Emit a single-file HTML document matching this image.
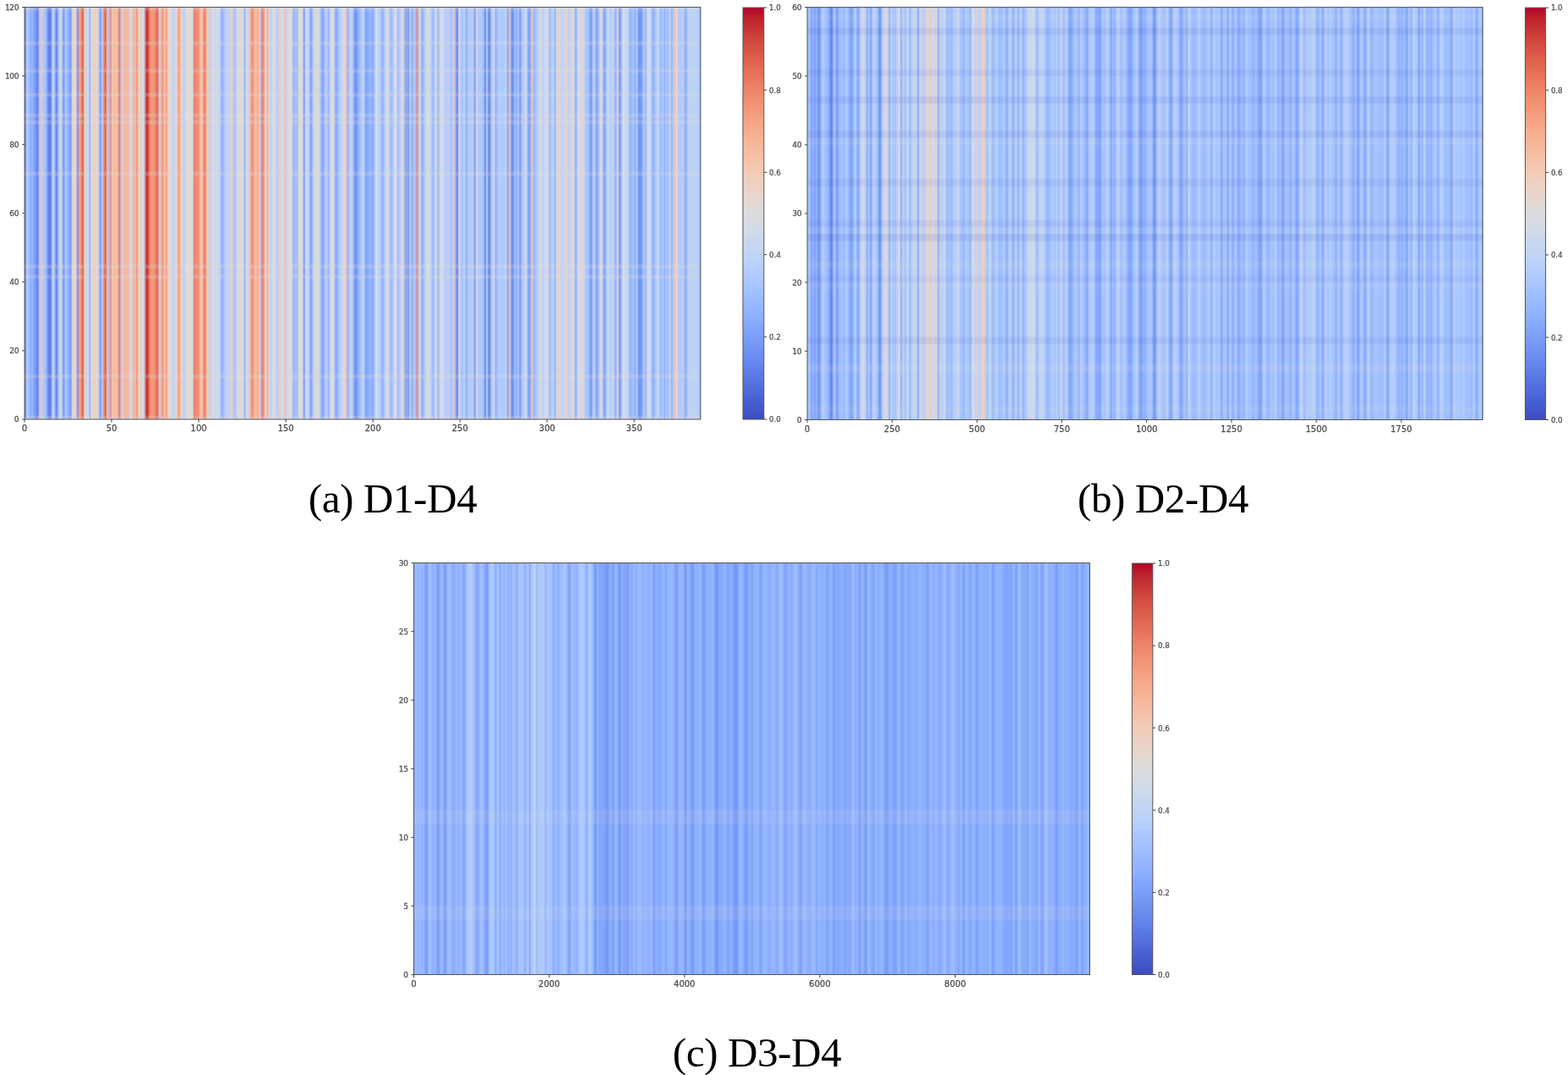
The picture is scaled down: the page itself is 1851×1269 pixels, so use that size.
<!DOCTYPE html><html><head><meta charset="utf-8"><style>
html,body{margin:0;padding:0;background:#fff;}
body{width:1851px;height:1269px;position:relative;overflow:hidden;}
svg{position:absolute;left:0;top:0;}
.cap{position:absolute;font-family:"Liberation Serif","Times New Roman",serif;font-size:49px;letter-spacing:-0.4px;color:#000;white-space:nowrap;line-height:1;}
</style></head><body>
<svg width="1851" height="1269" viewBox="0 0 1851 1269">
<defs><filter id="bl" x="0" y="0" width="1" height="1"><feConvolveMatrix order="3" kernelMatrix="1 2 1 2 4 2 1 2 1" edgeMode="duplicate"/></filter>
<linearGradient id="cbg" x1="0" y1="0" x2="0" y2="1"><stop offset="0.000" stop-color="#b40426"/><stop offset="0.025" stop-color="#bd1f2d"/><stop offset="0.050" stop-color="#c53334"/><stop offset="0.075" stop-color="#cf453c"/><stop offset="0.100" stop-color="#d65244"/><stop offset="0.125" stop-color="#dd5f4b"/><stop offset="0.150" stop-color="#e36c55"/><stop offset="0.175" stop-color="#e9785d"/><stop offset="0.200" stop-color="#ee8468"/><stop offset="0.225" stop-color="#f18f71"/><stop offset="0.250" stop-color="#f4987a"/><stop offset="0.275" stop-color="#f6a385"/><stop offset="0.300" stop-color="#f7ac8e"/><stop offset="0.325" stop-color="#f7b599"/><stop offset="0.350" stop-color="#f6bda2"/><stop offset="0.375" stop-color="#f5c4ac"/><stop offset="0.400" stop-color="#f2cbb7"/><stop offset="0.425" stop-color="#eed0c0"/><stop offset="0.450" stop-color="#e9d5cb"/><stop offset="0.475" stop-color="#e3d9d3"/><stop offset="0.500" stop-color="#dddcdc"/><stop offset="0.525" stop-color="#d6dce4"/><stop offset="0.550" stop-color="#cfdaea"/><stop offset="0.575" stop-color="#c7d7f0"/><stop offset="0.600" stop-color="#c0d4f5"/><stop offset="0.625" stop-color="#b9d0f9"/><stop offset="0.650" stop-color="#afcafc"/><stop offset="0.675" stop-color="#a7c5fe"/><stop offset="0.700" stop-color="#9ebeff"/><stop offset="0.725" stop-color="#96b7ff"/><stop offset="0.750" stop-color="#8db0fe"/><stop offset="0.775" stop-color="#84a7fc"/><stop offset="0.800" stop-color="#7b9ff9"/><stop offset="0.825" stop-color="#7295f4"/><stop offset="0.850" stop-color="#6a8bef"/><stop offset="0.875" stop-color="#6282ea"/><stop offset="0.900" stop-color="#5977e3"/><stop offset="0.925" stop-color="#516ddb"/><stop offset="0.950" stop-color="#4961d2"/><stop offset="0.975" stop-color="#4257c9"/><stop offset="1.000" stop-color="#3b4cc0"/></linearGradient></defs>
<g transform="translate(29.0,8.5)"><g filter="url(#bl)">
<rect x="0.00" width="2.56" height="486.50" fill="#688aef"/>
<rect x="2.06" width="2.56" height="486.50" fill="#b6cefa"/>
<rect x="4.11" width="2.56" height="486.50" fill="#a1c0ff"/>
<rect x="6.17" width="2.56" height="486.50" fill="#89acfd"/>
<rect x="8.22" width="2.56" height="486.50" fill="#93b5fe"/>
<rect x="10.28" width="2.56" height="486.50" fill="#80a3fa"/>
<rect x="12.34" width="2.56" height="486.50" fill="#7295f4"/>
<rect x="14.39" width="2.56" height="486.50" fill="#5470de"/>
<rect x="16.45" width="2.56" height="486.50" fill="#aec9fc"/>
<rect x="18.51" width="2.56" height="486.50" fill="#f5c1a9"/>
<rect x="20.56" width="2.56" height="486.50" fill="#b6cefa"/>
<rect x="22.62" width="2.56" height="486.50" fill="#a9c6fd"/>
<rect x="24.67" width="2.56" height="486.50" fill="#97b8ff"/>
<rect x="26.73" width="2.56" height="486.50" fill="#688aef"/>
<rect x="28.79" width="2.56" height="486.50" fill="#5875e1"/>
<rect x="30.84" width="2.56" height="486.50" fill="#80a3fa"/>
<rect x="32.90" width="2.56" height="486.50" fill="#d3dbe7"/>
<rect x="34.96" width="2.56" height="486.50" fill="#89acfd"/>
<rect x="37.01" width="2.56" height="486.50" fill="#5e7de7"/>
<rect x="39.07" width="2.56" height="486.50" fill="#a1c0ff"/>
<rect x="41.12" width="2.56" height="486.50" fill="#d6dce4"/>
<rect x="43.18" width="2.56" height="486.50" fill="#aec9fc"/>
<rect x="45.24" width="2.56" height="486.50" fill="#688aef"/>
<rect x="47.29" width="2.56" height="486.50" fill="#aec9fc"/>
<rect x="49.35" width="2.56" height="486.50" fill="#97b8ff"/>
<rect x="51.40" width="2.56" height="486.50" fill="#89acfd"/>
<rect x="53.46" width="2.56" height="486.50" fill="#6c8ff1"/>
<rect x="55.52" width="2.56" height="486.50" fill="#dddcdc"/>
<rect x="57.57" width="2.56" height="486.50" fill="#edd2c3"/>
<rect x="59.63" width="2.56" height="486.50" fill="#dddcdc"/>
<rect x="61.69" width="2.56" height="486.50" fill="#5e7de7"/>
<rect x="63.74" width="2.56" height="486.50" fill="#f7ac8e"/>
<rect x="65.80" width="2.56" height="486.50" fill="#f29072"/>
<rect x="67.85" width="2.56" height="486.50" fill="#d55042"/>
<rect x="69.91" width="2.56" height="486.50" fill="#edd2c3"/>
<rect x="71.97" width="2.56" height="486.50" fill="#bfd3f6"/>
<rect x="74.02" width="2.56" height="486.50" fill="#dddcdc"/>
<rect x="76.08" width="2.56" height="486.50" fill="#89acfd"/>
<rect x="78.14" width="2.56" height="486.50" fill="#dddcdc"/>
<rect x="80.19" width="2.56" height="486.50" fill="#edd2c3"/>
<rect x="82.25" width="2.56" height="486.50" fill="#f2c9b4"/>
<rect x="84.30" width="2.56" height="486.50" fill="#e3d9d3"/>
<rect x="86.36" width="2.56" height="486.50" fill="#bfd3f6"/>
<rect x="88.42" width="2.56" height="486.50" fill="#6c8ff1"/>
<rect x="90.47" width="2.56" height="486.50" fill="#b6cefa"/>
<rect x="92.53" width="2.56" height="486.50" fill="#f29072"/>
<rect x="94.58" width="2.56" height="486.50" fill="#d55042"/>
<rect x="96.64" width="2.56" height="486.50" fill="#f5c1a9"/>
<rect x="98.70" width="2.56" height="486.50" fill="#a1c0ff"/>
<rect x="100.75" width="2.56" height="486.50" fill="#ee8468"/>
<rect x="102.81" width="2.56" height="486.50" fill="#efcfbf"/>
<rect x="104.87" width="2.56" height="486.50" fill="#f7b093"/>
<rect x="106.92" width="2.56" height="486.50" fill="#f4c5ad"/>
<rect x="108.98" width="2.56" height="486.50" fill="#f7b093"/>
<rect x="111.03" width="2.56" height="486.50" fill="#e36c55"/>
<rect x="113.09" width="2.56" height="486.50" fill="#aec9fc"/>
<rect x="115.15" width="2.56" height="486.50" fill="#f4c5ad"/>
<rect x="117.20" width="2.56" height="486.50" fill="#f7b093"/>
<rect x="119.26" width="2.56" height="486.50" fill="#f6bda2"/>
<rect x="121.31" width="2.56" height="486.50" fill="#f7b093"/>
<rect x="123.37" width="2.56" height="486.50" fill="#cbd8ee"/>
<rect x="125.43" width="2.56" height="486.50" fill="#dddcdc"/>
<rect x="127.48" width="2.56" height="486.50" fill="#f7a688"/>
<rect x="129.54" width="2.56" height="486.50" fill="#f4c5ad"/>
<rect x="131.60" width="2.56" height="486.50" fill="#ee8468"/>
<rect x="133.65" width="2.56" height="486.50" fill="#dddcdc"/>
<rect x="135.71" width="2.56" height="486.50" fill="#f4c5ad"/>
<rect x="137.76" width="2.56" height="486.50" fill="#d6dce4"/>
<rect x="139.82" width="2.56" height="486.50" fill="#cbd8ee"/>
<rect x="141.88" width="2.56" height="486.50" fill="#d55042"/>
<rect x="143.93" width="2.56" height="486.50" fill="#be242e"/>
<rect x="145.99" width="2.56" height="486.50" fill="#e36c55"/>
<rect x="148.05" width="6.67" height="486.50" fill="#f39778"/>
<rect x="154.21" width="2.56" height="486.50" fill="#e67259"/>
<rect x="156.27" width="2.56" height="486.50" fill="#dd5f4b"/>
<rect x="158.33" width="2.56" height="486.50" fill="#cbd8ee"/>
<rect x="160.38" width="2.56" height="486.50" fill="#f7a688"/>
<rect x="162.44" width="2.56" height="486.50" fill="#f39778"/>
<rect x="164.49" width="2.56" height="486.50" fill="#f4c5ad"/>
<rect x="166.55" width="2.56" height="486.50" fill="#f39778"/>
<rect x="168.61" width="2.56" height="486.50" fill="#dddcdc"/>
<rect x="170.66" width="2.56" height="486.50" fill="#edd2c3"/>
<rect x="172.72" width="2.56" height="486.50" fill="#d6dce4"/>
<rect x="174.78" width="2.56" height="486.50" fill="#b6cefa"/>
<rect x="176.83" width="2.56" height="486.50" fill="#d3dbe7"/>
<rect x="178.89" width="2.56" height="486.50" fill="#edd2c3"/>
<rect x="180.94" width="2.56" height="486.50" fill="#f29072"/>
<rect x="183.00" width="2.56" height="486.50" fill="#f5c1a9"/>
<rect x="185.06" width="2.56" height="486.50" fill="#d6dce4"/>
<rect x="187.11" width="2.56" height="486.50" fill="#aec9fc"/>
<rect x="189.17" width="2.56" height="486.50" fill="#d6dce4"/>
<rect x="191.23" width="2.56" height="486.50" fill="#e7d7ce"/>
<rect x="193.28" width="2.56" height="486.50" fill="#dddcdc"/>
<rect x="195.34" width="2.56" height="486.50" fill="#e3d9d3"/>
<rect x="197.39" width="2.56" height="486.50" fill="#d6dce4"/>
<rect x="199.45" width="2.56" height="486.50" fill="#e36c55"/>
<rect x="201.51" width="2.56" height="486.50" fill="#f39778"/>
<rect x="203.56" width="2.56" height="486.50" fill="#ee8468"/>
<rect x="205.62" width="2.56" height="486.50" fill="#f7a688"/>
<rect x="207.67" width="2.56" height="486.50" fill="#efcfbf"/>
<rect x="209.73" width="2.56" height="486.50" fill="#f7a688"/>
<rect x="211.79" width="2.56" height="486.50" fill="#e36c55"/>
<rect x="213.84" width="2.56" height="486.50" fill="#f6bda2"/>
<rect x="215.90" width="2.56" height="486.50" fill="#f1ccb8"/>
<rect x="217.96" width="2.56" height="486.50" fill="#b6cefa"/>
<rect x="220.01" width="2.56" height="486.50" fill="#cbd8ee"/>
<rect x="222.07" width="2.56" height="486.50" fill="#edd2c3"/>
<rect x="224.12" width="2.56" height="486.50" fill="#c3d5f4"/>
<rect x="226.18" width="2.56" height="486.50" fill="#d3dbe7"/>
<rect x="228.24" width="2.56" height="486.50" fill="#c3d5f4"/>
<rect x="230.29" width="2.56" height="486.50" fill="#b6cefa"/>
<rect x="232.35" width="2.56" height="486.50" fill="#80a3fa"/>
<rect x="234.41" width="2.56" height="486.50" fill="#aec9fc"/>
<rect x="236.46" width="2.56" height="486.50" fill="#b6cefa"/>
<rect x="238.52" width="2.56" height="486.50" fill="#cbd8ee"/>
<rect x="240.57" width="2.56" height="486.50" fill="#b6cefa"/>
<rect x="242.63" width="2.56" height="486.50" fill="#d3dbe7"/>
<rect x="244.69" width="2.56" height="486.50" fill="#f5c1a9"/>
<rect x="246.74" width="2.56" height="486.50" fill="#a1c0ff"/>
<rect x="248.80" width="2.56" height="486.50" fill="#b6cefa"/>
<rect x="250.85" width="2.56" height="486.50" fill="#dddcdc"/>
<rect x="252.91" width="2.56" height="486.50" fill="#d3dbe7"/>
<rect x="254.97" width="2.56" height="486.50" fill="#e7d7ce"/>
<rect x="257.02" width="2.56" height="486.50" fill="#d3dbe7"/>
<rect x="259.08" width="2.56" height="486.50" fill="#89acfd"/>
<rect x="261.14" width="2.56" height="486.50" fill="#dddcdc"/>
<rect x="263.19" width="2.56" height="486.50" fill="#c3d5f4"/>
<rect x="265.25" width="2.56" height="486.50" fill="#f6bda2"/>
<rect x="267.30" width="2.56" height="486.50" fill="#f08b6e"/>
<rect x="269.36" width="2.56" height="486.50" fill="#f39778"/>
<rect x="271.42" width="2.56" height="486.50" fill="#f2c9b4"/>
<rect x="273.47" width="2.56" height="486.50" fill="#f7a688"/>
<rect x="275.53" width="2.56" height="486.50" fill="#f6bda2"/>
<rect x="277.59" width="2.56" height="486.50" fill="#b6cefa"/>
<rect x="279.64" width="2.56" height="486.50" fill="#e36c55"/>
<rect x="281.70" width="2.56" height="486.50" fill="#f7a688"/>
<rect x="283.75" width="2.56" height="486.50" fill="#dddcdc"/>
<rect x="285.81" width="2.56" height="486.50" fill="#f7a688"/>
<rect x="287.87" width="2.56" height="486.50" fill="#dddcdc"/>
<rect x="289.92" width="2.56" height="486.50" fill="#b6cefa"/>
<rect x="291.98" width="2.56" height="486.50" fill="#d3dbe7"/>
<rect x="294.03" width="2.56" height="486.50" fill="#e3d9d3"/>
<rect x="296.09" width="2.56" height="486.50" fill="#bfd3f6"/>
<rect x="298.15" width="2.56" height="486.50" fill="#aec9fc"/>
<rect x="300.20" width="2.56" height="486.50" fill="#f1ccb8"/>
<rect x="302.26" width="2.56" height="486.50" fill="#cbd8ee"/>
<rect x="304.32" width="2.56" height="486.50" fill="#d3dbe7"/>
<rect x="306.37" width="2.56" height="486.50" fill="#f7b99e"/>
<rect x="308.43" width="2.56" height="486.50" fill="#bfd3f6"/>
<rect x="310.48" width="2.56" height="486.50" fill="#e3d9d3"/>
<rect x="312.54" width="2.56" height="486.50" fill="#d3dbe7"/>
<rect x="314.60" width="2.56" height="486.50" fill="#dddcdc"/>
<rect x="316.65" width="2.56" height="486.50" fill="#89acfd"/>
<rect x="318.71" width="2.56" height="486.50" fill="#aec9fc"/>
<rect x="320.76" width="2.56" height="486.50" fill="#93b5fe"/>
<rect x="322.82" width="2.56" height="486.50" fill="#e7d7ce"/>
<rect x="324.88" width="2.56" height="486.50" fill="#e3d9d3"/>
<rect x="326.93" width="2.56" height="486.50" fill="#d3dbe7"/>
<rect x="328.99" width="2.56" height="486.50" fill="#6c8ff1"/>
<rect x="331.05" width="4.61" height="486.50" fill="#cbd8ee"/>
<rect x="335.16" width="2.56" height="486.50" fill="#aec9fc"/>
<rect x="337.21" width="2.56" height="486.50" fill="#7295f4"/>
<rect x="339.27" width="2.56" height="486.50" fill="#aec9fc"/>
<rect x="341.33" width="2.56" height="486.50" fill="#cbd8ee"/>
<rect x="343.38" width="2.56" height="486.50" fill="#edd2c3"/>
<rect x="345.44" width="2.56" height="486.50" fill="#d3dbe7"/>
<rect x="347.50" width="2.56" height="486.50" fill="#bfd3f6"/>
<rect x="349.55" width="2.56" height="486.50" fill="#89acfd"/>
<rect x="351.61" width="2.56" height="486.50" fill="#80a3fa"/>
<rect x="353.66" width="2.56" height="486.50" fill="#aec9fc"/>
<rect x="355.72" width="2.56" height="486.50" fill="#bfd3f6"/>
<rect x="357.78" width="2.56" height="486.50" fill="#89acfd"/>
<rect x="359.83" width="2.56" height="486.50" fill="#cbd8ee"/>
<rect x="361.89" width="2.56" height="486.50" fill="#e3d9d3"/>
<rect x="363.94" width="2.56" height="486.50" fill="#d3dbe7"/>
<rect x="366.00" width="4.61" height="486.50" fill="#89acfd"/>
<rect x="370.11" width="2.56" height="486.50" fill="#aec9fc"/>
<rect x="372.17" width="2.56" height="486.50" fill="#b6cefa"/>
<rect x="374.23" width="2.56" height="486.50" fill="#cbd8ee"/>
<rect x="376.28" width="2.56" height="486.50" fill="#e3d9d3"/>
<rect x="378.34" width="2.56" height="486.50" fill="#f2c9b4"/>
<rect x="380.39" width="2.56" height="486.50" fill="#89acfd"/>
<rect x="382.45" width="2.56" height="486.50" fill="#aec9fc"/>
<rect x="384.51" width="2.56" height="486.50" fill="#cbd8ee"/>
<rect x="386.56" width="2.56" height="486.50" fill="#aec9fc"/>
<rect x="388.62" width="4.61" height="486.50" fill="#7295f4"/>
<rect x="392.73" width="2.56" height="486.50" fill="#89acfd"/>
<rect x="394.79" width="2.56" height="486.50" fill="#a1c0ff"/>
<rect x="396.84" width="2.56" height="486.50" fill="#aec9fc"/>
<rect x="398.90" width="2.56" height="486.50" fill="#cbd8ee"/>
<rect x="400.96" width="2.56" height="486.50" fill="#89acfd"/>
<rect x="403.01" width="2.56" height="486.50" fill="#80a3fa"/>
<rect x="405.07" width="2.56" height="486.50" fill="#89acfd"/>
<rect x="407.12" width="2.56" height="486.50" fill="#97b8ff"/>
<rect x="409.18" width="4.61" height="486.50" fill="#89acfd"/>
<rect x="413.29" width="2.56" height="486.50" fill="#cbd8ee"/>
<rect x="415.35" width="2.56" height="486.50" fill="#d6dce4"/>
<rect x="417.41" width="2.56" height="486.50" fill="#b6cefa"/>
<rect x="419.46" width="2.56" height="486.50" fill="#aec9fc"/>
<rect x="421.52" width="2.56" height="486.50" fill="#89acfd"/>
<rect x="423.57" width="2.56" height="486.50" fill="#aec9fc"/>
<rect x="425.63" width="2.56" height="486.50" fill="#cbd8ee"/>
<rect x="427.69" width="2.56" height="486.50" fill="#dddcdc"/>
<rect x="429.74" width="2.56" height="486.50" fill="#b6cefa"/>
<rect x="431.80" width="2.56" height="486.50" fill="#97b8ff"/>
<rect x="433.86" width="2.56" height="486.50" fill="#aec9fc"/>
<rect x="435.91" width="2.56" height="486.50" fill="#dddcdc"/>
<rect x="437.97" width="2.56" height="486.50" fill="#cbd8ee"/>
<rect x="440.02" width="2.56" height="486.50" fill="#97b8ff"/>
<rect x="442.08" width="2.56" height="486.50" fill="#b6cefa"/>
<rect x="444.14" width="2.56" height="486.50" fill="#cbd8ee"/>
<rect x="446.19" width="2.56" height="486.50" fill="#edd2c3"/>
<rect x="448.25" width="2.56" height="486.50" fill="#80a3fa"/>
<rect x="450.30" width="2.56" height="486.50" fill="#89acfd"/>
<rect x="452.36" width="2.56" height="486.50" fill="#7295f4"/>
<rect x="454.42" width="2.56" height="486.50" fill="#cbd8ee"/>
<rect x="456.47" width="2.56" height="486.50" fill="#80a3fa"/>
<rect x="458.53" width="2.56" height="486.50" fill="#b6cefa"/>
<rect x="460.59" width="2.56" height="486.50" fill="#a1c0ff"/>
<rect x="462.64" width="2.56" height="486.50" fill="#e67259"/>
<rect x="464.70" width="2.56" height="486.50" fill="#dddcdc"/>
<rect x="466.75" width="2.56" height="486.50" fill="#aec9fc"/>
<rect x="468.81" width="2.56" height="486.50" fill="#89acfd"/>
<rect x="470.87" width="2.56" height="486.50" fill="#aec9fc"/>
<rect x="472.92" width="2.56" height="486.50" fill="#cbd8ee"/>
<rect x="474.98" width="2.56" height="486.50" fill="#dddcdc"/>
<rect x="477.04" width="2.56" height="486.50" fill="#cbd8ee"/>
<rect x="479.09" width="2.56" height="486.50" fill="#b6cefa"/>
<rect x="481.15" width="2.56" height="486.50" fill="#93b5fe"/>
<rect x="483.20" width="2.56" height="486.50" fill="#b6cefa"/>
<rect x="485.26" width="2.56" height="486.50" fill="#dddcdc"/>
<rect x="487.32" width="2.56" height="486.50" fill="#89acfd"/>
<rect x="489.37" width="2.56" height="486.50" fill="#cbd8ee"/>
<rect x="491.43" width="2.56" height="486.50" fill="#dddcdc"/>
<rect x="493.48" width="2.56" height="486.50" fill="#cbd8ee"/>
<rect x="495.54" width="2.56" height="486.50" fill="#aec9fc"/>
<rect x="497.60" width="2.56" height="486.50" fill="#b6cefa"/>
<rect x="499.65" width="2.56" height="486.50" fill="#bfd3f6"/>
<rect x="501.71" width="2.56" height="486.50" fill="#a1c0ff"/>
<rect x="503.77" width="2.56" height="486.50" fill="#aec9fc"/>
<rect x="505.82" width="2.56" height="486.50" fill="#f2c9b4"/>
<rect x="507.88" width="2.56" height="486.50" fill="#89acfd"/>
<rect x="509.93" width="2.56" height="486.50" fill="#5e7de7"/>
<rect x="511.99" width="2.56" height="486.50" fill="#d6dce4"/>
<rect x="514.05" width="2.56" height="486.50" fill="#aec9fc"/>
<rect x="516.10" width="2.56" height="486.50" fill="#a1c0ff"/>
<rect x="518.16" width="2.56" height="486.50" fill="#bfd3f6"/>
<rect x="520.21" width="2.56" height="486.50" fill="#89acfd"/>
<rect x="522.27" width="2.56" height="486.50" fill="#a1c0ff"/>
<rect x="524.33" width="2.56" height="486.50" fill="#b6cefa"/>
<rect x="526.38" width="2.56" height="486.50" fill="#aec9fc"/>
<rect x="528.44" width="2.56" height="486.50" fill="#bfd3f6"/>
<rect x="530.50" width="2.56" height="486.50" fill="#6c8ff1"/>
<rect x="532.55" width="2.56" height="486.50" fill="#dddcdc"/>
<rect x="534.61" width="6.67" height="486.50" fill="#aec9fc"/>
<rect x="540.78" width="2.56" height="486.50" fill="#a1c0ff"/>
<rect x="542.83" width="2.56" height="486.50" fill="#5e7de7"/>
<rect x="544.89" width="2.56" height="486.50" fill="#bfd3f6"/>
<rect x="546.95" width="2.56" height="486.50" fill="#5e7de7"/>
<rect x="549.00" width="2.56" height="486.50" fill="#80a3fa"/>
<rect x="551.06" width="2.56" height="486.50" fill="#bfd3f6"/>
<rect x="553.11" width="2.56" height="486.50" fill="#cbd8ee"/>
<rect x="555.17" width="2.56" height="486.50" fill="#89acfd"/>
<rect x="557.23" width="2.56" height="486.50" fill="#a1c0ff"/>
<rect x="559.28" width="2.56" height="486.50" fill="#b6cefa"/>
<rect x="561.34" width="6.67" height="486.50" fill="#aec9fc"/>
<rect x="567.51" width="2.56" height="486.50" fill="#cbd8ee"/>
<rect x="569.56" width="2.56" height="486.50" fill="#7295f4"/>
<rect x="571.62" width="2.56" height="486.50" fill="#edd2c3"/>
<rect x="573.68" width="2.56" height="486.50" fill="#7295f4"/>
<rect x="575.73" width="2.56" height="486.50" fill="#6c8ff1"/>
<rect x="577.79" width="2.56" height="486.50" fill="#a1c0ff"/>
<rect x="579.84" width="2.56" height="486.50" fill="#89acfd"/>
<rect x="581.90" width="2.56" height="486.50" fill="#aec9fc"/>
<rect x="583.96" width="2.56" height="486.50" fill="#6c8ff1"/>
<rect x="586.01" width="4.61" height="486.50" fill="#aec9fc"/>
<rect x="590.13" width="2.56" height="486.50" fill="#d3dbe7"/>
<rect x="592.18" width="2.56" height="486.50" fill="#aec9fc"/>
<rect x="594.24" width="2.56" height="486.50" fill="#7295f4"/>
<rect x="596.29" width="2.56" height="486.50" fill="#89acfd"/>
<rect x="598.35" width="2.56" height="486.50" fill="#f2c9b4"/>
<rect x="600.41" width="2.56" height="486.50" fill="#89acfd"/>
<rect x="602.46" width="4.61" height="486.50" fill="#aec9fc"/>
<rect x="606.57" width="2.56" height="486.50" fill="#cbd8ee"/>
<rect x="608.63" width="2.56" height="486.50" fill="#dddcdc"/>
<rect x="610.69" width="2.56" height="486.50" fill="#b6cefa"/>
<rect x="612.74" width="4.61" height="486.50" fill="#cbd8ee"/>
<rect x="616.86" width="2.56" height="486.50" fill="#d6dce4"/>
<rect x="618.91" width="2.56" height="486.50" fill="#93b5fe"/>
<rect x="620.97" width="2.56" height="486.50" fill="#aec9fc"/>
<rect x="623.02" width="2.56" height="486.50" fill="#c3d5f4"/>
<rect x="625.08" width="2.56" height="486.50" fill="#89acfd"/>
<rect x="627.14" width="2.56" height="486.50" fill="#cbd8ee"/>
<rect x="629.19" width="2.56" height="486.50" fill="#f2c9b4"/>
<rect x="631.25" width="2.56" height="486.50" fill="#cbd8ee"/>
<rect x="633.31" width="2.56" height="486.50" fill="#b6cefa"/>
<rect x="635.36" width="2.56" height="486.50" fill="#cbd8ee"/>
<rect x="637.42" width="2.56" height="486.50" fill="#f1ccb8"/>
<rect x="639.47" width="2.56" height="486.50" fill="#cbd8ee"/>
<rect x="641.53" width="2.56" height="486.50" fill="#b6cefa"/>
<rect x="643.59" width="2.56" height="486.50" fill="#cbd8ee"/>
<rect x="645.64" width="2.56" height="486.50" fill="#edd2c3"/>
<rect x="647.70" width="2.56" height="486.50" fill="#cbd8ee"/>
<rect x="649.75" width="2.56" height="486.50" fill="#80a3fa"/>
<rect x="651.81" width="2.56" height="486.50" fill="#cbd8ee"/>
<rect x="653.87" width="2.56" height="486.50" fill="#d3dbe7"/>
<rect x="655.92" width="2.56" height="486.50" fill="#edd2c3"/>
<rect x="657.98" width="2.56" height="486.50" fill="#d3dbe7"/>
<rect x="660.04" width="2.56" height="486.50" fill="#bfd3f6"/>
<rect x="662.09" width="2.56" height="486.50" fill="#a1c0ff"/>
<rect x="664.15" width="2.56" height="486.50" fill="#aec9fc"/>
<rect x="666.20" width="2.56" height="486.50" fill="#80a3fa"/>
<rect x="668.26" width="2.56" height="486.50" fill="#7295f4"/>
<rect x="670.32" width="2.56" height="486.50" fill="#bfd3f6"/>
<rect x="672.37" width="2.56" height="486.50" fill="#aec9fc"/>
<rect x="674.43" width="2.56" height="486.50" fill="#7295f4"/>
<rect x="676.49" width="2.56" height="486.50" fill="#a1c0ff"/>
<rect x="678.54" width="2.56" height="486.50" fill="#d3dbe7"/>
<rect x="680.60" width="2.56" height="486.50" fill="#dddcdc"/>
<rect x="682.65" width="2.56" height="486.50" fill="#80a3fa"/>
<rect x="684.71" width="2.56" height="486.50" fill="#89acfd"/>
<rect x="686.77" width="2.56" height="486.50" fill="#c3d5f4"/>
<rect x="688.82" width="2.56" height="486.50" fill="#cbd8ee"/>
<rect x="690.88" width="2.56" height="486.50" fill="#aec9fc"/>
<rect x="692.93" width="2.56" height="486.50" fill="#cbd8ee"/>
<rect x="694.99" width="2.56" height="486.50" fill="#aec9fc"/>
<rect x="697.05" width="2.56" height="486.50" fill="#89acfd"/>
<rect x="699.10" width="2.56" height="486.50" fill="#e3d9d3"/>
<rect x="701.16" width="2.56" height="486.50" fill="#7295f4"/>
<rect x="703.22" width="2.56" height="486.50" fill="#89acfd"/>
<rect x="705.27" width="2.56" height="486.50" fill="#dddcdc"/>
<rect x="707.33" width="2.56" height="486.50" fill="#cbd8ee"/>
<rect x="709.38" width="2.56" height="486.50" fill="#c3d5f4"/>
<rect x="711.44" width="2.56" height="486.50" fill="#cbd8ee"/>
<rect x="713.50" width="2.56" height="486.50" fill="#89acfd"/>
<rect x="715.55" width="4.61" height="486.50" fill="#a1c0ff"/>
<rect x="719.66" width="2.56" height="486.50" fill="#89acfd"/>
<rect x="721.72" width="2.56" height="486.50" fill="#b6cefa"/>
<rect x="723.78" width="4.61" height="486.50" fill="#7295f4"/>
<rect x="727.89" width="2.56" height="486.50" fill="#80a3fa"/>
<rect x="729.95" width="2.56" height="486.50" fill="#b6cefa"/>
<rect x="732.00" width="2.56" height="486.50" fill="#93b5fe"/>
<rect x="734.06" width="2.56" height="486.50" fill="#c3d5f4"/>
<rect x="736.11" width="2.56" height="486.50" fill="#d6dce4"/>
<rect x="738.17" width="2.56" height="486.50" fill="#c3d5f4"/>
<rect x="740.23" width="2.56" height="486.50" fill="#89acfd"/>
<rect x="742.28" width="2.56" height="486.50" fill="#93b5fe"/>
<rect x="744.34" width="2.56" height="486.50" fill="#aec9fc"/>
<rect x="746.40" width="2.56" height="486.50" fill="#cbd8ee"/>
<rect x="748.45" width="2.56" height="486.50" fill="#aec9fc"/>
<rect x="750.51" width="2.56" height="486.50" fill="#93b5fe"/>
<rect x="752.56" width="2.56" height="486.50" fill="#b6cefa"/>
<rect x="754.62" width="2.56" height="486.50" fill="#89acfd"/>
<rect x="756.68" width="2.56" height="486.50" fill="#aec9fc"/>
<rect x="758.73" width="2.56" height="486.50" fill="#93b5fe"/>
<rect x="760.79" width="2.56" height="486.50" fill="#d3dbe7"/>
<rect x="762.84" width="2.56" height="486.50" fill="#89acfd"/>
<rect x="764.90" width="2.56" height="486.50" fill="#b6cefa"/>
<rect x="766.96" width="2.56" height="486.50" fill="#f5c1a9"/>
<rect x="769.01" width="2.56" height="486.50" fill="#e7d7ce"/>
<rect x="771.07" width="4.61" height="486.50" fill="#aec9fc"/>
<rect x="775.18" width="2.56" height="486.50" fill="#b6cefa"/>
<rect x="777.24" width="2.56" height="486.50" fill="#aec9fc"/>
<rect x="779.29" width="2.56" height="486.50" fill="#80a3fa"/>
<rect x="781.35" width="2.56" height="486.50" fill="#aec9fc"/>
<rect x="783.41" width="2.56" height="486.50" fill="#c3d5f4"/>
<rect x="785.46" width="2.56" height="486.50" fill="#b6cefa"/>
<rect x="787.52" width="2.56" height="486.50" fill="#c3d5f4"/>
<rect x="789.58" width="2.56" height="486.50" fill="#b6cefa"/>
<rect x="791.63" width="2.56" height="486.50" fill="#c3d5f4"/>
<rect x="793.69" width="2.56" height="486.50" fill="#aec9fc"/>
<rect x="795.74" width="2.56" height="486.50" fill="#bfd3f6"/>
<rect x="0" y="482.45" width="797.80" height="4.05" fill="#dddcdc" fill-opacity="0.28"/>
<rect x="0" y="433.80" width="797.80" height="4.05" fill="#dddcdc" fill-opacity="0.28"/>
<rect x="0" y="316.23" width="797.80" height="4.05" fill="#dddcdc" fill-opacity="0.28"/>
<rect x="0" y="304.06" width="797.80" height="4.05" fill="#dddcdc" fill-opacity="0.28"/>
<rect x="0" y="194.60" width="797.80" height="4.05" fill="#dddcdc" fill-opacity="0.28"/>
<rect x="0" y="133.79" width="797.80" height="4.05" fill="#dddcdc" fill-opacity="0.28"/>
<rect x="0" y="125.68" width="797.80" height="4.05" fill="#dddcdc" fill-opacity="0.28"/>
<rect x="0" y="101.35" width="797.80" height="4.05" fill="#dddcdc" fill-opacity="0.28"/>
<rect x="0" y="72.98" width="797.80" height="4.05" fill="#dddcdc" fill-opacity="0.28"/>
<rect x="0" y="40.54" width="797.80" height="4.05" fill="#dddcdc" fill-opacity="0.28"/>
<rect x="0" y="0.00" width="797.80" height="4.05" fill="#dddcdc" fill-opacity="0.28"/>
</g></g>
<rect x="29.0" y="8.5" width="797.80" height="486.50" fill="none" stroke="#555" stroke-width="1"/>
<line x1="26.0" y1="495.00" x2="29.0" y2="495.00" stroke="#444" stroke-width="1"/>
<text x="22.0" y="498.40" text-anchor="end" font-family="DejaVu Sans, sans-serif" font-size="9" letter-spacing="-0.4" fill="#3a3a3a" stroke="#666" stroke-width="0.3">0</text>
<line x1="26.0" y1="413.92" x2="29.0" y2="413.92" stroke="#444" stroke-width="1"/>
<text x="22.0" y="417.32" text-anchor="end" font-family="DejaVu Sans, sans-serif" font-size="9" letter-spacing="-0.4" fill="#3a3a3a" stroke="#666" stroke-width="0.3">20</text>
<line x1="26.0" y1="332.83" x2="29.0" y2="332.83" stroke="#444" stroke-width="1"/>
<text x="22.0" y="336.23" text-anchor="end" font-family="DejaVu Sans, sans-serif" font-size="9" letter-spacing="-0.4" fill="#3a3a3a" stroke="#666" stroke-width="0.3">40</text>
<line x1="26.0" y1="251.75" x2="29.0" y2="251.75" stroke="#444" stroke-width="1"/>
<text x="22.0" y="255.15" text-anchor="end" font-family="DejaVu Sans, sans-serif" font-size="9" letter-spacing="-0.4" fill="#3a3a3a" stroke="#666" stroke-width="0.3">60</text>
<line x1="26.0" y1="170.67" x2="29.0" y2="170.67" stroke="#444" stroke-width="1"/>
<text x="22.0" y="174.07" text-anchor="end" font-family="DejaVu Sans, sans-serif" font-size="9" letter-spacing="-0.4" fill="#3a3a3a" stroke="#666" stroke-width="0.3">80</text>
<line x1="26.0" y1="89.58" x2="29.0" y2="89.58" stroke="#444" stroke-width="1"/>
<text x="22.0" y="92.98" text-anchor="end" font-family="DejaVu Sans, sans-serif" font-size="9" letter-spacing="-0.4" fill="#3a3a3a" stroke="#666" stroke-width="0.3">100</text>
<line x1="26.0" y1="8.50" x2="29.0" y2="8.50" stroke="#444" stroke-width="1"/>
<text x="22.0" y="11.90" text-anchor="end" font-family="DejaVu Sans, sans-serif" font-size="9" letter-spacing="-0.4" fill="#3a3a3a" stroke="#666" stroke-width="0.3">120</text>
<line x1="29.00" y1="495.0" x2="29.00" y2="498.5" stroke="#444" stroke-width="1"/>
<text x="29.00" y="509.20" text-anchor="middle" font-family="DejaVu Sans, sans-serif" font-size="10" fill="#3a3a3a" stroke="#666" stroke-width="0.3">0</text>
<line x1="131.81" y1="495.0" x2="131.81" y2="498.5" stroke="#444" stroke-width="1"/>
<text x="131.81" y="509.20" text-anchor="middle" font-family="DejaVu Sans, sans-serif" font-size="10" fill="#3a3a3a" stroke="#666" stroke-width="0.3">50</text>
<line x1="234.62" y1="495.0" x2="234.62" y2="498.5" stroke="#444" stroke-width="1"/>
<text x="234.62" y="509.20" text-anchor="middle" font-family="DejaVu Sans, sans-serif" font-size="10" fill="#3a3a3a" stroke="#666" stroke-width="0.3">100</text>
<line x1="337.43" y1="495.0" x2="337.43" y2="498.5" stroke="#444" stroke-width="1"/>
<text x="337.43" y="509.20" text-anchor="middle" font-family="DejaVu Sans, sans-serif" font-size="10" fill="#3a3a3a" stroke="#666" stroke-width="0.3">150</text>
<line x1="440.24" y1="495.0" x2="440.24" y2="498.5" stroke="#444" stroke-width="1"/>
<text x="440.24" y="509.20" text-anchor="middle" font-family="DejaVu Sans, sans-serif" font-size="10" fill="#3a3a3a" stroke="#666" stroke-width="0.3">200</text>
<line x1="543.05" y1="495.0" x2="543.05" y2="498.5" stroke="#444" stroke-width="1"/>
<text x="543.05" y="509.20" text-anchor="middle" font-family="DejaVu Sans, sans-serif" font-size="10" fill="#3a3a3a" stroke="#666" stroke-width="0.3">250</text>
<line x1="645.86" y1="495.0" x2="645.86" y2="498.5" stroke="#444" stroke-width="1"/>
<text x="645.86" y="509.20" text-anchor="middle" font-family="DejaVu Sans, sans-serif" font-size="10" fill="#3a3a3a" stroke="#666" stroke-width="0.3">300</text>
<line x1="748.66" y1="495.0" x2="748.66" y2="498.5" stroke="#444" stroke-width="1"/>
<text x="748.66" y="509.20" text-anchor="middle" font-family="DejaVu Sans, sans-serif" font-size="10" fill="#3a3a3a" stroke="#666" stroke-width="0.3">350</text>
<rect x="877.0" y="9.0" width="24.80" height="486.00" fill="url(#cbg)" stroke="#555" stroke-width="1"/>
<line x1="901.8" y1="495.00" x2="905.3" y2="495.00" stroke="#444" stroke-width="1"/>
<text x="908.0999999999999" y="498.30" font-family="DejaVu Sans, sans-serif" font-size="8.6" fill="#3a3a3a" stroke="#666" stroke-width="0.25">0.0</text>
<line x1="901.8" y1="397.80" x2="905.3" y2="397.80" stroke="#444" stroke-width="1"/>
<text x="908.0999999999999" y="401.10" font-family="DejaVu Sans, sans-serif" font-size="8.6" fill="#3a3a3a" stroke="#666" stroke-width="0.25">0.2</text>
<line x1="901.8" y1="300.60" x2="905.3" y2="300.60" stroke="#444" stroke-width="1"/>
<text x="908.0999999999999" y="303.90" font-family="DejaVu Sans, sans-serif" font-size="8.6" fill="#3a3a3a" stroke="#666" stroke-width="0.25">0.4</text>
<line x1="901.8" y1="203.40" x2="905.3" y2="203.40" stroke="#444" stroke-width="1"/>
<text x="908.0999999999999" y="206.70" font-family="DejaVu Sans, sans-serif" font-size="8.6" fill="#3a3a3a" stroke="#666" stroke-width="0.25">0.6</text>
<line x1="901.8" y1="106.20" x2="905.3" y2="106.20" stroke="#444" stroke-width="1"/>
<text x="908.0999999999999" y="109.50" font-family="DejaVu Sans, sans-serif" font-size="8.6" fill="#3a3a3a" stroke="#666" stroke-width="0.25">0.8</text>
<line x1="901.8" y1="9.00" x2="905.3" y2="9.00" stroke="#444" stroke-width="1"/>
<text x="908.0999999999999" y="12.30" font-family="DejaVu Sans, sans-serif" font-size="8.6" fill="#3a3a3a" stroke="#666" stroke-width="0.25">1.0</text>
<g transform="translate(953.0,8.6)"><g filter="url(#bl)">
<rect x="0.00" width="4.50" height="486.90" fill="#a5c3fe"/>
<rect x="4.00" width="2.50" height="486.90" fill="#7b9ff9"/>
<rect x="5.99" width="2.50" height="486.90" fill="#96b7ff"/>
<rect x="7.99" width="2.50" height="486.90" fill="#7b9ff9"/>
<rect x="9.99" width="2.50" height="486.90" fill="#96b7ff"/>
<rect x="11.99" width="2.50" height="486.90" fill="#7093f3"/>
<rect x="13.99" width="2.50" height="486.90" fill="#7b9ff9"/>
<rect x="15.99" width="2.50" height="486.90" fill="#a5c3fe"/>
<rect x="17.98" width="2.50" height="486.90" fill="#bad0f8"/>
<rect x="19.98" width="2.50" height="486.90" fill="#a5c3fe"/>
<rect x="21.98" width="2.50" height="486.90" fill="#9bbcff"/>
<rect x="23.98" width="2.50" height="486.90" fill="#96b7ff"/>
<rect x="25.98" width="2.50" height="486.90" fill="#7093f3"/>
<rect x="27.98" width="2.50" height="486.90" fill="#6282ea"/>
<rect x="29.97" width="2.50" height="486.90" fill="#a1c0ff"/>
<rect x="31.97" width="2.50" height="486.90" fill="#a5c3fe"/>
<rect x="33.97" width="2.50" height="486.90" fill="#7093f3"/>
<rect x="35.97" width="2.50" height="486.90" fill="#96b7ff"/>
<rect x="37.97" width="2.50" height="486.90" fill="#a1c0ff"/>
<rect x="39.96" width="2.50" height="486.90" fill="#a5c3fe"/>
<rect x="41.96" width="2.50" height="486.90" fill="#96b7ff"/>
<rect x="43.96" width="2.50" height="486.90" fill="#a5c3fe"/>
<rect x="45.96" width="2.50" height="486.90" fill="#afcafc"/>
<rect x="47.96" width="2.50" height="486.90" fill="#96b7ff"/>
<rect x="49.96" width="2.50" height="486.90" fill="#85a8fc"/>
<rect x="51.95" width="2.50" height="486.90" fill="#7b9ff9"/>
<rect x="53.95" width="2.50" height="486.90" fill="#a5c3fe"/>
<rect x="55.95" width="2.50" height="486.90" fill="#bad0f8"/>
<rect x="57.95" width="2.50" height="486.90" fill="#8badfd"/>
<rect x="59.95" width="2.50" height="486.90" fill="#85a8fc"/>
<rect x="61.95" width="4.50" height="486.90" fill="#c7d7f0"/>
<rect x="65.94" width="2.50" height="486.90" fill="#d5dbe5"/>
<rect x="67.94" width="2.50" height="486.90" fill="#afcafc"/>
<rect x="69.94" width="2.50" height="486.90" fill="#8badfd"/>
<rect x="71.94" width="2.50" height="486.90" fill="#afcafc"/>
<rect x="73.94" width="2.50" height="486.90" fill="#7b9ff9"/>
<rect x="75.93" width="2.50" height="486.90" fill="#afcafc"/>
<rect x="77.93" width="2.50" height="486.90" fill="#bfd3f6"/>
<rect x="79.93" width="2.50" height="486.90" fill="#afcafc"/>
<rect x="81.93" width="2.50" height="486.90" fill="#a5c3fe"/>
<rect x="83.93" width="2.50" height="486.90" fill="#7093f3"/>
<rect x="85.92" width="2.50" height="486.90" fill="#7b9ff9"/>
<rect x="87.92" width="2.50" height="486.90" fill="#bfd3f6"/>
<rect x="89.92" width="2.50" height="486.90" fill="#c7d7f0"/>
<rect x="91.92" width="2.50" height="486.90" fill="#e8d6cc"/>
<rect x="93.92" width="2.50" height="486.90" fill="#c7d7f0"/>
<rect x="95.92" width="2.50" height="486.90" fill="#8badfd"/>
<rect x="97.91" width="2.50" height="486.90" fill="#bfd3f6"/>
<rect x="99.91" width="2.50" height="486.90" fill="#afcafc"/>
<rect x="101.91" width="2.50" height="486.90" fill="#a5c3fe"/>
<rect x="103.91" width="2.50" height="486.90" fill="#afcafc"/>
<rect x="105.91" width="2.50" height="486.90" fill="#c7d7f0"/>
<rect x="107.91" width="2.50" height="486.90" fill="#dddcdc"/>
<rect x="109.90" width="2.50" height="486.90" fill="#85a8fc"/>
<rect x="111.90" width="2.50" height="486.90" fill="#c7d7f0"/>
<rect x="113.90" width="2.50" height="486.90" fill="#a5c3fe"/>
<rect x="115.90" width="2.50" height="486.90" fill="#afcafc"/>
<rect x="117.90" width="2.50" height="486.90" fill="#d5dbe5"/>
<rect x="119.89" width="2.50" height="486.90" fill="#96b7ff"/>
<rect x="121.89" width="2.50" height="486.90" fill="#afcafc"/>
<rect x="123.89" width="2.50" height="486.90" fill="#c7d7f0"/>
<rect x="125.89" width="2.50" height="486.90" fill="#bfd3f6"/>
<rect x="127.89" width="2.50" height="486.90" fill="#c7d7f0"/>
<rect x="129.89" width="2.50" height="486.90" fill="#7b9ff9"/>
<rect x="131.88" width="2.50" height="486.90" fill="#dddcdc"/>
<rect x="133.88" width="6.49" height="486.90" fill="#bad0f8"/>
<rect x="139.88" width="2.50" height="486.90" fill="#eed0c0"/>
<rect x="141.88" width="2.50" height="486.90" fill="#d1dae9"/>
<rect x="143.87" width="2.50" height="486.90" fill="#f4c6af"/>
<rect x="145.87" width="4.50" height="486.90" fill="#d1dae9"/>
<rect x="149.87" width="2.50" height="486.90" fill="#c7d7f0"/>
<rect x="151.87" width="2.50" height="486.90" fill="#eed0c0"/>
<rect x="153.86" width="2.50" height="486.90" fill="#85a8fc"/>
<rect x="155.86" width="2.50" height="486.90" fill="#c7d7f0"/>
<rect x="157.86" width="2.50" height="486.90" fill="#bad0f8"/>
<rect x="159.86" width="4.50" height="486.90" fill="#c7d7f0"/>
<rect x="163.86" width="2.50" height="486.90" fill="#96b7ff"/>
<rect x="165.85" width="4.50" height="486.90" fill="#a5c3fe"/>
<rect x="169.85" width="2.50" height="486.90" fill="#96b7ff"/>
<rect x="171.85" width="2.50" height="486.90" fill="#bfd3f6"/>
<rect x="173.85" width="2.50" height="486.90" fill="#afcafc"/>
<rect x="175.85" width="4.50" height="486.90" fill="#c7d7f0"/>
<rect x="179.84" width="4.50" height="486.90" fill="#a5c3fe"/>
<rect x="183.84" width="2.50" height="486.90" fill="#96b7ff"/>
<rect x="185.84" width="4.50" height="486.90" fill="#afcafc"/>
<rect x="189.83" width="2.50" height="486.90" fill="#a5c3fe"/>
<rect x="191.83" width="2.50" height="486.90" fill="#96b7ff"/>
<rect x="193.83" width="4.50" height="486.90" fill="#d1dae9"/>
<rect x="197.83" width="2.50" height="486.90" fill="#bad0f8"/>
<rect x="199.82" width="2.50" height="486.90" fill="#eed0c0"/>
<rect x="201.82" width="2.50" height="486.90" fill="#bad0f8"/>
<rect x="203.82" width="2.50" height="486.90" fill="#bfd3f6"/>
<rect x="205.82" width="2.50" height="486.90" fill="#eed0c0"/>
<rect x="207.82" width="2.50" height="486.90" fill="#f1cdba"/>
<rect x="209.82" width="2.50" height="486.90" fill="#afcafc"/>
<rect x="211.81" width="2.50" height="486.90" fill="#a1c0ff"/>
<rect x="213.81" width="2.50" height="486.90" fill="#c7d7f0"/>
<rect x="215.81" width="2.50" height="486.90" fill="#bfd3f6"/>
<rect x="217.81" width="2.50" height="486.90" fill="#96b7ff"/>
<rect x="219.81" width="2.50" height="486.90" fill="#a5c3fe"/>
<rect x="221.81" width="2.50" height="486.90" fill="#bad0f8"/>
<rect x="223.80" width="2.50" height="486.90" fill="#afcafc"/>
<rect x="225.80" width="2.50" height="486.90" fill="#96b7ff"/>
<rect x="227.80" width="4.50" height="486.90" fill="#a5c3fe"/>
<rect x="231.80" width="2.50" height="486.90" fill="#bad0f8"/>
<rect x="233.79" width="2.50" height="486.90" fill="#8badfd"/>
<rect x="235.79" width="2.50" height="486.90" fill="#96b7ff"/>
<rect x="237.79" width="2.50" height="486.90" fill="#c7d7f0"/>
<rect x="239.79" width="2.50" height="486.90" fill="#afcafc"/>
<rect x="241.79" width="2.50" height="486.90" fill="#8badfd"/>
<rect x="243.79" width="2.50" height="486.90" fill="#a5c3fe"/>
<rect x="245.78" width="2.50" height="486.90" fill="#bfd3f6"/>
<rect x="247.78" width="2.50" height="486.90" fill="#8badfd"/>
<rect x="249.78" width="2.50" height="486.90" fill="#afcafc"/>
<rect x="251.78" width="2.50" height="486.90" fill="#bfd3f6"/>
<rect x="253.78" width="2.50" height="486.90" fill="#8badfd"/>
<rect x="255.78" width="2.50" height="486.90" fill="#a5c3fe"/>
<rect x="257.77" width="2.50" height="486.90" fill="#afcafc"/>
<rect x="259.77" width="6.49" height="486.90" fill="#c7d7f0"/>
<rect x="265.77" width="2.50" height="486.90" fill="#d5dbe5"/>
<rect x="267.76" width="2.50" height="486.90" fill="#c7d7f0"/>
<rect x="269.76" width="2.50" height="486.90" fill="#96b7ff"/>
<rect x="271.76" width="2.50" height="486.90" fill="#afcafc"/>
<rect x="273.76" width="2.50" height="486.90" fill="#c7d7f0"/>
<rect x="275.76" width="4.50" height="486.90" fill="#bfd3f6"/>
<rect x="279.75" width="2.50" height="486.90" fill="#afcafc"/>
<rect x="281.75" width="4.50" height="486.90" fill="#96b7ff"/>
<rect x="285.75" width="2.50" height="486.90" fill="#a5c3fe"/>
<rect x="287.75" width="4.50" height="486.90" fill="#afcafc"/>
<rect x="291.74" width="2.50" height="486.90" fill="#a5c3fe"/>
<rect x="293.74" width="2.50" height="486.90" fill="#bfd3f6"/>
<rect x="295.74" width="2.50" height="486.90" fill="#96b7ff"/>
<rect x="297.74" width="4.50" height="486.90" fill="#bfd3f6"/>
<rect x="301.74" width="2.50" height="486.90" fill="#96b7ff"/>
<rect x="303.73" width="4.50" height="486.90" fill="#bad0f8"/>
<rect x="307.73" width="4.50" height="486.90" fill="#85a8fc"/>
<rect x="311.73" width="2.50" height="486.90" fill="#8badfd"/>
<rect x="313.72" width="2.50" height="486.90" fill="#a5c3fe"/>
<rect x="315.72" width="2.50" height="486.90" fill="#afcafc"/>
<rect x="317.72" width="2.50" height="486.90" fill="#a5c3fe"/>
<rect x="319.72" width="2.50" height="486.90" fill="#8badfd"/>
<rect x="321.72" width="2.50" height="486.90" fill="#bfd3f6"/>
<rect x="323.72" width="4.50" height="486.90" fill="#a5c3fe"/>
<rect x="327.71" width="2.50" height="486.90" fill="#8badfd"/>
<rect x="329.71" width="2.50" height="486.90" fill="#85a8fc"/>
<rect x="331.71" width="4.50" height="486.90" fill="#afcafc"/>
<rect x="335.71" width="2.50" height="486.90" fill="#bad0f8"/>
<rect x="337.70" width="2.50" height="486.90" fill="#afcafc"/>
<rect x="339.70" width="2.50" height="486.90" fill="#85a8fc"/>
<rect x="341.70" width="2.50" height="486.90" fill="#8badfd"/>
<rect x="343.70" width="2.50" height="486.90" fill="#7b9ff9"/>
<rect x="345.70" width="2.50" height="486.90" fill="#8badfd"/>
<rect x="347.69" width="2.50" height="486.90" fill="#afcafc"/>
<rect x="349.69" width="2.50" height="486.90" fill="#a1c0ff"/>
<rect x="351.69" width="2.50" height="486.90" fill="#afcafc"/>
<rect x="353.69" width="2.50" height="486.90" fill="#bfd3f6"/>
<rect x="355.69" width="2.50" height="486.90" fill="#a5c3fe"/>
<rect x="357.69" width="2.50" height="486.90" fill="#7b9ff9"/>
<rect x="359.68" width="2.50" height="486.90" fill="#a5c3fe"/>
<rect x="361.68" width="2.50" height="486.90" fill="#8badfd"/>
<rect x="363.68" width="2.50" height="486.90" fill="#afcafc"/>
<rect x="365.68" width="2.50" height="486.90" fill="#bfd3f6"/>
<rect x="367.68" width="2.50" height="486.90" fill="#bad0f8"/>
<rect x="369.68" width="2.50" height="486.90" fill="#96b7ff"/>
<rect x="371.67" width="4.50" height="486.90" fill="#afcafc"/>
<rect x="375.67" width="2.50" height="486.90" fill="#a5c3fe"/>
<rect x="377.67" width="4.50" height="486.90" fill="#85a8fc"/>
<rect x="381.66" width="2.50" height="486.90" fill="#7b9ff9"/>
<rect x="383.66" width="4.50" height="486.90" fill="#a5c3fe"/>
<rect x="387.66" width="2.50" height="486.90" fill="#bad0f8"/>
<rect x="389.66" width="2.50" height="486.90" fill="#a5c3fe"/>
<rect x="391.66" width="4.50" height="486.90" fill="#7b9ff9"/>
<rect x="395.65" width="2.50" height="486.90" fill="#96b7ff"/>
<rect x="397.65" width="2.50" height="486.90" fill="#8badfd"/>
<rect x="399.65" width="2.50" height="486.90" fill="#a1c0ff"/>
<rect x="401.65" width="2.50" height="486.90" fill="#a5c3fe"/>
<rect x="403.65" width="2.50" height="486.90" fill="#afcafc"/>
<rect x="405.64" width="2.50" height="486.90" fill="#a5c3fe"/>
<rect x="407.64" width="2.50" height="486.90" fill="#7b9ff9"/>
<rect x="409.64" width="2.50" height="486.90" fill="#7093f3"/>
<rect x="411.64" width="2.50" height="486.90" fill="#a5c3fe"/>
<rect x="413.64" width="2.50" height="486.90" fill="#bad0f8"/>
<rect x="415.64" width="2.50" height="486.90" fill="#bfd3f6"/>
<rect x="417.63" width="6.49" height="486.90" fill="#a5c3fe"/>
<rect x="423.63" width="2.50" height="486.90" fill="#bfd3f6"/>
<rect x="425.63" width="2.50" height="486.90" fill="#a5c3fe"/>
<rect x="427.62" width="2.50" height="486.90" fill="#7b9ff9"/>
<rect x="429.62" width="2.50" height="486.90" fill="#8badfd"/>
<rect x="431.62" width="4.50" height="486.90" fill="#bad0f8"/>
<rect x="435.62" width="2.50" height="486.90" fill="#afcafc"/>
<rect x="437.62" width="2.50" height="486.90" fill="#a5c3fe"/>
<rect x="439.61" width="2.50" height="486.90" fill="#7b9ff9"/>
<rect x="441.61" width="2.50" height="486.90" fill="#8badfd"/>
<rect x="443.61" width="4.50" height="486.90" fill="#a5c3fe"/>
<rect x="447.61" width="2.50" height="486.90" fill="#8badfd"/>
<rect x="449.61" width="2.50" height="486.90" fill="#d5dbe5"/>
<rect x="451.60" width="2.50" height="486.90" fill="#a5c3fe"/>
<rect x="453.60" width="2.50" height="486.90" fill="#a1c0ff"/>
<rect x="455.60" width="2.50" height="486.90" fill="#96b7ff"/>
<rect x="457.60" width="2.50" height="486.90" fill="#a1c0ff"/>
<rect x="459.60" width="2.50" height="486.90" fill="#a5c3fe"/>
<rect x="461.59" width="2.50" height="486.90" fill="#bfd3f6"/>
<rect x="463.59" width="2.50" height="486.90" fill="#a5c3fe"/>
<rect x="465.59" width="2.50" height="486.90" fill="#a1c0ff"/>
<rect x="467.59" width="2.50" height="486.90" fill="#96b7ff"/>
<rect x="469.59" width="4.50" height="486.90" fill="#a5c3fe"/>
<rect x="473.58" width="2.50" height="486.90" fill="#bad0f8"/>
<rect x="475.58" width="2.50" height="486.90" fill="#8badfd"/>
<rect x="477.58" width="2.50" height="486.90" fill="#a1c0ff"/>
<rect x="479.58" width="2.50" height="486.90" fill="#bad0f8"/>
<rect x="481.58" width="4.50" height="486.90" fill="#a5c3fe"/>
<rect x="485.57" width="2.50" height="486.90" fill="#bad0f8"/>
<rect x="487.57" width="2.50" height="486.90" fill="#7b9ff9"/>
<rect x="489.57" width="2.50" height="486.90" fill="#a1c0ff"/>
<rect x="491.57" width="2.50" height="486.90" fill="#a5c3fe"/>
<rect x="493.57" width="2.50" height="486.90" fill="#afcafc"/>
<rect x="495.56" width="2.50" height="486.90" fill="#7b9ff9"/>
<rect x="497.56" width="2.50" height="486.90" fill="#afcafc"/>
<rect x="499.56" width="2.50" height="486.90" fill="#a5c3fe"/>
<rect x="501.56" width="2.50" height="486.90" fill="#85a8fc"/>
<rect x="503.56" width="2.50" height="486.90" fill="#a5c3fe"/>
<rect x="505.56" width="2.50" height="486.90" fill="#afcafc"/>
<rect x="507.55" width="2.50" height="486.90" fill="#85a8fc"/>
<rect x="509.55" width="2.50" height="486.90" fill="#8badfd"/>
<rect x="511.55" width="2.50" height="486.90" fill="#a5c3fe"/>
<rect x="513.55" width="4.50" height="486.90" fill="#96b7ff"/>
<rect x="517.55" width="2.50" height="486.90" fill="#bad0f8"/>
<rect x="519.54" width="2.50" height="486.90" fill="#a5c3fe"/>
<rect x="521.54" width="2.50" height="486.90" fill="#a1c0ff"/>
<rect x="523.54" width="2.50" height="486.90" fill="#a5c3fe"/>
<rect x="525.54" width="2.50" height="486.90" fill="#8badfd"/>
<rect x="527.54" width="4.50" height="486.90" fill="#a1c0ff"/>
<rect x="531.53" width="2.50" height="486.90" fill="#85a8fc"/>
<rect x="533.53" width="2.50" height="486.90" fill="#7b9ff9"/>
<rect x="535.53" width="2.50" height="486.90" fill="#85a8fc"/>
<rect x="537.53" width="2.50" height="486.90" fill="#bfd3f6"/>
<rect x="539.53" width="2.50" height="486.90" fill="#a5c3fe"/>
<rect x="541.52" width="2.50" height="486.90" fill="#a1c0ff"/>
<rect x="543.52" width="2.50" height="486.90" fill="#8badfd"/>
<rect x="545.52" width="2.50" height="486.90" fill="#afcafc"/>
<rect x="547.52" width="4.50" height="486.90" fill="#a1c0ff"/>
<rect x="551.52" width="2.50" height="486.90" fill="#bad0f8"/>
<rect x="553.51" width="2.50" height="486.90" fill="#a1c0ff"/>
<rect x="555.51" width="2.50" height="486.90" fill="#8badfd"/>
<rect x="557.51" width="2.50" height="486.90" fill="#afcafc"/>
<rect x="559.51" width="2.50" height="486.90" fill="#7b9ff9"/>
<rect x="561.51" width="2.50" height="486.90" fill="#8badfd"/>
<rect x="563.51" width="4.50" height="486.90" fill="#a5c3fe"/>
<rect x="567.50" width="2.50" height="486.90" fill="#a1c0ff"/>
<rect x="569.50" width="2.50" height="486.90" fill="#8badfd"/>
<rect x="571.50" width="2.50" height="486.90" fill="#a5c3fe"/>
<rect x="573.50" width="2.50" height="486.90" fill="#afcafc"/>
<rect x="575.49" width="2.50" height="486.90" fill="#8badfd"/>
<rect x="577.49" width="2.50" height="486.90" fill="#7b9ff9"/>
<rect x="579.49" width="2.50" height="486.90" fill="#a1c0ff"/>
<rect x="581.49" width="2.50" height="486.90" fill="#bad0f8"/>
<rect x="583.49" width="2.50" height="486.90" fill="#c7d7f0"/>
<rect x="585.49" width="2.50" height="486.90" fill="#8badfd"/>
<rect x="587.48" width="8.49" height="486.90" fill="#afcafc"/>
<rect x="595.48" width="4.50" height="486.90" fill="#bad0f8"/>
<rect x="599.47" width="2.50" height="486.90" fill="#a5c3fe"/>
<rect x="601.47" width="2.50" height="486.90" fill="#8badfd"/>
<rect x="603.47" width="2.50" height="486.90" fill="#a1c0ff"/>
<rect x="605.47" width="2.50" height="486.90" fill="#afcafc"/>
<rect x="607.47" width="2.50" height="486.90" fill="#7b9ff9"/>
<rect x="609.46" width="2.50" height="486.90" fill="#a5c3fe"/>
<rect x="611.46" width="2.50" height="486.90" fill="#bad0f8"/>
<rect x="613.46" width="2.50" height="486.90" fill="#a5c3fe"/>
<rect x="615.46" width="4.50" height="486.90" fill="#afcafc"/>
<rect x="619.46" width="2.50" height="486.90" fill="#a5c3fe"/>
<rect x="621.45" width="2.50" height="486.90" fill="#a1c0ff"/>
<rect x="623.45" width="2.50" height="486.90" fill="#85a8fc"/>
<rect x="625.45" width="2.50" height="486.90" fill="#bad0f8"/>
<rect x="627.45" width="2.50" height="486.90" fill="#a1c0ff"/>
<rect x="629.45" width="2.50" height="486.90" fill="#8badfd"/>
<rect x="631.45" width="2.50" height="486.90" fill="#a5c3fe"/>
<rect x="633.44" width="6.49" height="486.90" fill="#bad0f8"/>
<rect x="639.44" width="2.50" height="486.90" fill="#a5c3fe"/>
<rect x="641.44" width="2.50" height="486.90" fill="#a1c0ff"/>
<rect x="643.44" width="2.50" height="486.90" fill="#8badfd"/>
<rect x="645.43" width="2.50" height="486.90" fill="#9bbcff"/>
<rect x="647.43" width="2.50" height="486.90" fill="#a1c0ff"/>
<rect x="649.43" width="2.50" height="486.90" fill="#7093f3"/>
<rect x="651.43" width="2.50" height="486.90" fill="#a5c3fe"/>
<rect x="653.43" width="2.50" height="486.90" fill="#afcafc"/>
<rect x="655.42" width="2.50" height="486.90" fill="#a1c0ff"/>
<rect x="657.42" width="2.50" height="486.90" fill="#7b9ff9"/>
<rect x="659.42" width="2.50" height="486.90" fill="#a1c0ff"/>
<rect x="661.42" width="2.50" height="486.90" fill="#bfd3f6"/>
<rect x="663.42" width="2.50" height="486.90" fill="#a5c3fe"/>
<rect x="665.42" width="2.50" height="486.90" fill="#8badfd"/>
<rect x="667.41" width="2.50" height="486.90" fill="#a1c0ff"/>
<rect x="669.41" width="4.50" height="486.90" fill="#a5c3fe"/>
<rect x="673.41" width="2.50" height="486.90" fill="#a1c0ff"/>
<rect x="675.41" width="2.50" height="486.90" fill="#9bbcff"/>
<rect x="677.41" width="4.50" height="486.90" fill="#a1c0ff"/>
<rect x="681.40" width="2.50" height="486.90" fill="#bad0f8"/>
<rect x="683.40" width="2.50" height="486.90" fill="#7b9ff9"/>
<rect x="685.40" width="2.50" height="486.90" fill="#8badfd"/>
<rect x="687.40" width="2.50" height="486.90" fill="#bad0f8"/>
<rect x="689.39" width="2.50" height="486.90" fill="#afcafc"/>
<rect x="691.39" width="2.50" height="486.90" fill="#bad0f8"/>
<rect x="693.39" width="2.50" height="486.90" fill="#a5c3fe"/>
<rect x="695.39" width="2.50" height="486.90" fill="#9bbcff"/>
<rect x="697.39" width="2.50" height="486.90" fill="#8badfd"/>
<rect x="699.39" width="2.50" height="486.90" fill="#9bbcff"/>
<rect x="701.38" width="2.50" height="486.90" fill="#8badfd"/>
<rect x="703.38" width="2.50" height="486.90" fill="#a5c3fe"/>
<rect x="705.38" width="2.50" height="486.90" fill="#8badfd"/>
<rect x="707.38" width="2.50" height="486.90" fill="#7b9ff9"/>
<rect x="709.38" width="2.50" height="486.90" fill="#bad0f8"/>
<rect x="711.38" width="2.50" height="486.90" fill="#8badfd"/>
<rect x="713.37" width="2.50" height="486.90" fill="#a5c3fe"/>
<rect x="715.37" width="2.50" height="486.90" fill="#bad0f8"/>
<rect x="717.37" width="2.50" height="486.90" fill="#afcafc"/>
<rect x="719.37" width="2.50" height="486.90" fill="#a1c0ff"/>
<rect x="721.37" width="2.50" height="486.90" fill="#7b9ff9"/>
<rect x="723.36" width="2.50" height="486.90" fill="#a5c3fe"/>
<rect x="725.36" width="2.50" height="486.90" fill="#8badfd"/>
<rect x="727.36" width="2.50" height="486.90" fill="#c3d5f4"/>
<rect x="729.36" width="2.50" height="486.90" fill="#a1c0ff"/>
<rect x="731.36" width="2.50" height="486.90" fill="#85a8fc"/>
<rect x="733.36" width="2.50" height="486.90" fill="#a5c3fe"/>
<rect x="735.35" width="2.50" height="486.90" fill="#85a8fc"/>
<rect x="737.35" width="2.50" height="486.90" fill="#a1c0ff"/>
<rect x="739.35" width="2.50" height="486.90" fill="#a5c3fe"/>
<rect x="741.35" width="2.50" height="486.90" fill="#afcafc"/>
<rect x="743.35" width="2.50" height="486.90" fill="#85a8fc"/>
<rect x="745.35" width="2.50" height="486.90" fill="#a1c0ff"/>
<rect x="747.34" width="2.50" height="486.90" fill="#bfd3f6"/>
<rect x="749.34" width="2.50" height="486.90" fill="#afcafc"/>
<rect x="751.34" width="2.50" height="486.90" fill="#a1c0ff"/>
<rect x="753.34" width="2.50" height="486.90" fill="#9bbcff"/>
<rect x="755.34" width="2.50" height="486.90" fill="#a1c0ff"/>
<rect x="757.34" width="2.50" height="486.90" fill="#9bbcff"/>
<rect x="759.33" width="2.50" height="486.90" fill="#7b9ff9"/>
<rect x="761.33" width="2.50" height="486.90" fill="#a5c3fe"/>
<rect x="763.33" width="2.50" height="486.90" fill="#bad0f8"/>
<rect x="765.33" width="2.50" height="486.90" fill="#a5c3fe"/>
<rect x="767.33" width="2.50" height="486.90" fill="#afcafc"/>
<rect x="769.32" width="4.50" height="486.90" fill="#a5c3fe"/>
<rect x="773.32" width="2.50" height="486.90" fill="#afcafc"/>
<rect x="775.32" width="2.50" height="486.90" fill="#a5c3fe"/>
<rect x="777.32" width="2.50" height="486.90" fill="#9bbcff"/>
<rect x="779.32" width="4.50" height="486.90" fill="#a1c0ff"/>
<rect x="783.31" width="2.50" height="486.90" fill="#96b7ff"/>
<rect x="785.31" width="2.50" height="486.90" fill="#afcafc"/>
<rect x="787.31" width="2.50" height="486.90" fill="#a5c3fe"/>
<rect x="789.31" width="2.50" height="486.90" fill="#7b9ff9"/>
<rect x="791.31" width="2.50" height="486.90" fill="#a1c0ff"/>
<rect x="793.30" width="2.50" height="486.90" fill="#afcafc"/>
<rect x="795.30" width="2.50" height="486.90" fill="#a1c0ff"/>
<rect x="0" y="24.34" width="797.30" height="8.12" fill="#3b4cc0" fill-opacity="0.09"/>
<rect x="0" y="73.03" width="797.30" height="8.12" fill="#3b4cc0" fill-opacity="0.07"/>
<rect x="0" y="105.49" width="797.30" height="8.12" fill="#3b4cc0" fill-opacity="0.1"/>
<rect x="0" y="146.07" width="797.30" height="8.12" fill="#3b4cc0" fill-opacity="0.09"/>
<rect x="0" y="202.87" width="797.30" height="8.12" fill="#3b4cc0" fill-opacity="0.08"/>
<rect x="0" y="251.56" width="797.30" height="8.12" fill="#3b4cc0" fill-opacity="0.07"/>
<rect x="0" y="267.79" width="797.30" height="8.12" fill="#3b4cc0" fill-opacity="0.11"/>
<rect x="0" y="316.49" width="797.30" height="8.12" fill="#3b4cc0" fill-opacity="0.05"/>
<rect x="0" y="389.52" width="797.30" height="8.12" fill="#3b4cc0" fill-opacity="0.09"/>
<rect x="0" y="154.18" width="797.30" height="8.12" fill="#dddcdc" fill-opacity="0.12"/>
<rect x="0" y="259.68" width="797.30" height="8.12" fill="#dddcdc" fill-opacity="0.12"/>
<rect x="0" y="300.25" width="797.30" height="8.12" fill="#dddcdc" fill-opacity="0.12"/>
<rect x="0" y="324.60" width="797.30" height="8.12" fill="#dddcdc" fill-opacity="0.1"/>
<rect x="0" y="421.98" width="797.30" height="8.12" fill="#dddcdc" fill-opacity="0.15"/>
<rect x="0" y="470.67" width="797.30" height="8.12" fill="#dddcdc" fill-opacity="0.1"/>
<rect x="0" y="8.11" width="797.30" height="8.12" fill="#dddcdc" fill-opacity="0.1"/>
</g></g>
<rect x="953.0" y="8.6" width="797.30" height="486.90" fill="none" stroke="#555" stroke-width="1"/>
<line x1="950.0" y1="495.50" x2="953.0" y2="495.50" stroke="#444" stroke-width="1"/>
<text x="946.0" y="498.90" text-anchor="end" font-family="DejaVu Sans, sans-serif" font-size="9" letter-spacing="-0.4" fill="#3a3a3a" stroke="#666" stroke-width="0.3">0</text>
<line x1="950.0" y1="414.35" x2="953.0" y2="414.35" stroke="#444" stroke-width="1"/>
<text x="946.0" y="417.75" text-anchor="end" font-family="DejaVu Sans, sans-serif" font-size="9" letter-spacing="-0.4" fill="#3a3a3a" stroke="#666" stroke-width="0.3">10</text>
<line x1="950.0" y1="333.20" x2="953.0" y2="333.20" stroke="#444" stroke-width="1"/>
<text x="946.0" y="336.60" text-anchor="end" font-family="DejaVu Sans, sans-serif" font-size="9" letter-spacing="-0.4" fill="#3a3a3a" stroke="#666" stroke-width="0.3">20</text>
<line x1="950.0" y1="252.05" x2="953.0" y2="252.05" stroke="#444" stroke-width="1"/>
<text x="946.0" y="255.45" text-anchor="end" font-family="DejaVu Sans, sans-serif" font-size="9" letter-spacing="-0.4" fill="#3a3a3a" stroke="#666" stroke-width="0.3">30</text>
<line x1="950.0" y1="170.90" x2="953.0" y2="170.90" stroke="#444" stroke-width="1"/>
<text x="946.0" y="174.30" text-anchor="end" font-family="DejaVu Sans, sans-serif" font-size="9" letter-spacing="-0.4" fill="#3a3a3a" stroke="#666" stroke-width="0.3">40</text>
<line x1="950.0" y1="89.75" x2="953.0" y2="89.75" stroke="#444" stroke-width="1"/>
<text x="946.0" y="93.15" text-anchor="end" font-family="DejaVu Sans, sans-serif" font-size="9" letter-spacing="-0.4" fill="#3a3a3a" stroke="#666" stroke-width="0.3">50</text>
<line x1="950.0" y1="8.60" x2="953.0" y2="8.60" stroke="#444" stroke-width="1"/>
<text x="946.0" y="12.00" text-anchor="end" font-family="DejaVu Sans, sans-serif" font-size="9" letter-spacing="-0.4" fill="#3a3a3a" stroke="#666" stroke-width="0.3">60</text>
<line x1="953.00" y1="495.5" x2="953.00" y2="499.0" stroke="#444" stroke-width="1"/>
<text x="953.00" y="509.70" text-anchor="middle" font-family="DejaVu Sans, sans-serif" font-size="10" fill="#3a3a3a" stroke="#666" stroke-width="0.3">0</text>
<line x1="1053.16" y1="495.5" x2="1053.16" y2="499.0" stroke="#444" stroke-width="1"/>
<text x="1053.16" y="509.70" text-anchor="middle" font-family="DejaVu Sans, sans-serif" font-size="10" fill="#3a3a3a" stroke="#666" stroke-width="0.3">250</text>
<line x1="1153.33" y1="495.5" x2="1153.33" y2="499.0" stroke="#444" stroke-width="1"/>
<text x="1153.33" y="509.70" text-anchor="middle" font-family="DejaVu Sans, sans-serif" font-size="10" fill="#3a3a3a" stroke="#666" stroke-width="0.3">500</text>
<line x1="1253.49" y1="495.5" x2="1253.49" y2="499.0" stroke="#444" stroke-width="1"/>
<text x="1253.49" y="509.70" text-anchor="middle" font-family="DejaVu Sans, sans-serif" font-size="10" fill="#3a3a3a" stroke="#666" stroke-width="0.3">750</text>
<line x1="1353.65" y1="495.5" x2="1353.65" y2="499.0" stroke="#444" stroke-width="1"/>
<text x="1353.65" y="509.70" text-anchor="middle" font-family="DejaVu Sans, sans-serif" font-size="10" fill="#3a3a3a" stroke="#666" stroke-width="0.3">1000</text>
<line x1="1453.82" y1="495.5" x2="1453.82" y2="499.0" stroke="#444" stroke-width="1"/>
<text x="1453.82" y="509.70" text-anchor="middle" font-family="DejaVu Sans, sans-serif" font-size="10" fill="#3a3a3a" stroke="#666" stroke-width="0.3">1250</text>
<line x1="1553.98" y1="495.5" x2="1553.98" y2="499.0" stroke="#444" stroke-width="1"/>
<text x="1553.98" y="509.70" text-anchor="middle" font-family="DejaVu Sans, sans-serif" font-size="10" fill="#3a3a3a" stroke="#666" stroke-width="0.3">1500</text>
<line x1="1654.14" y1="495.5" x2="1654.14" y2="499.0" stroke="#444" stroke-width="1"/>
<text x="1654.14" y="509.70" text-anchor="middle" font-family="DejaVu Sans, sans-serif" font-size="10" fill="#3a3a3a" stroke="#666" stroke-width="0.3">1750</text>
<rect x="1800.5" y="9.1" width="24.10" height="486.40" fill="url(#cbg)" stroke="#555" stroke-width="1"/>
<line x1="1824.6" y1="495.50" x2="1828.1" y2="495.50" stroke="#444" stroke-width="1"/>
<text x="1830.8999999999999" y="498.80" font-family="DejaVu Sans, sans-serif" font-size="8.6" fill="#3a3a3a" stroke="#666" stroke-width="0.25">0.0</text>
<line x1="1824.6" y1="398.22" x2="1828.1" y2="398.22" stroke="#444" stroke-width="1"/>
<text x="1830.8999999999999" y="401.52" font-family="DejaVu Sans, sans-serif" font-size="8.6" fill="#3a3a3a" stroke="#666" stroke-width="0.25">0.2</text>
<line x1="1824.6" y1="300.94" x2="1828.1" y2="300.94" stroke="#444" stroke-width="1"/>
<text x="1830.8999999999999" y="304.24" font-family="DejaVu Sans, sans-serif" font-size="8.6" fill="#3a3a3a" stroke="#666" stroke-width="0.25">0.4</text>
<line x1="1824.6" y1="203.66" x2="1828.1" y2="203.66" stroke="#444" stroke-width="1"/>
<text x="1830.8999999999999" y="206.96" font-family="DejaVu Sans, sans-serif" font-size="8.6" fill="#3a3a3a" stroke="#666" stroke-width="0.25">0.6</text>
<line x1="1824.6" y1="106.38" x2="1828.1" y2="106.38" stroke="#444" stroke-width="1"/>
<text x="1830.8999999999999" y="109.68" font-family="DejaVu Sans, sans-serif" font-size="8.6" fill="#3a3a3a" stroke="#666" stroke-width="0.25">0.8</text>
<line x1="1824.6" y1="9.10" x2="1828.1" y2="9.10" stroke="#444" stroke-width="1"/>
<text x="1830.8999999999999" y="12.40" font-family="DejaVu Sans, sans-serif" font-size="8.6" fill="#3a3a3a" stroke="#666" stroke-width="0.25">1.0</text>
<g transform="translate(488.5,664.5)"><g filter="url(#bl)">
<rect x="0.00" width="2.50" height="486.00" fill="#8fb1fe"/>
<rect x="2.00" width="2.50" height="486.00" fill="#9fbfff"/>
<rect x="4.00" width="2.50" height="486.00" fill="#8fb1fe"/>
<rect x="6.00" width="2.50" height="486.00" fill="#9fbfff"/>
<rect x="8.00" width="2.50" height="486.00" fill="#8fb1fe"/>
<rect x="10.00" width="2.50" height="486.00" fill="#9abbff"/>
<rect x="12.00" width="2.50" height="486.00" fill="#85a8fc"/>
<rect x="14.00" width="2.50" height="486.00" fill="#7597f6"/>
<rect x="16.00" width="2.50" height="486.00" fill="#8fb1fe"/>
<rect x="18.00" width="2.50" height="486.00" fill="#aac7fd"/>
<rect x="20.00" width="4.50" height="486.00" fill="#8fb1fe"/>
<rect x="24.00" width="2.50" height="486.00" fill="#9abbff"/>
<rect x="26.00" width="2.50" height="486.00" fill="#85a8fc"/>
<rect x="28.00" width="2.50" height="486.00" fill="#7597f6"/>
<rect x="30.00" width="2.50" height="486.00" fill="#8fb1fe"/>
<rect x="32.00" width="2.50" height="486.00" fill="#9fbfff"/>
<rect x="34.00" width="2.50" height="486.00" fill="#85a8fc"/>
<rect x="36.00" width="2.50" height="486.00" fill="#7597f6"/>
<rect x="38.00" width="2.50" height="486.00" fill="#8fb1fe"/>
<rect x="40.00" width="2.50" height="486.00" fill="#9fbfff"/>
<rect x="42.00" width="2.50" height="486.00" fill="#9abbff"/>
<rect x="44.00" width="2.50" height="486.00" fill="#8fb1fe"/>
<rect x="46.00" width="2.50" height="486.00" fill="#85a8fc"/>
<rect x="48.00" width="2.50" height="486.00" fill="#8fb1fe"/>
<rect x="50.00" width="2.50" height="486.00" fill="#9abbff"/>
<rect x="52.00" width="2.50" height="486.00" fill="#85a8fc"/>
<rect x="54.00" width="2.50" height="486.00" fill="#9fbfff"/>
<rect x="56.00" width="2.50" height="486.00" fill="#8fb1fe"/>
<rect x="58.00" width="2.50" height="486.00" fill="#80a3fa"/>
<rect x="60.00" width="2.50" height="486.00" fill="#8fb1fe"/>
<rect x="62.00" width="4.50" height="486.00" fill="#aec9fc"/>
<rect x="66.00" width="2.50" height="486.00" fill="#b9d0f9"/>
<rect x="68.00" width="2.50" height="486.00" fill="#aac7fd"/>
<rect x="70.00" width="2.50" height="486.00" fill="#9fbfff"/>
<rect x="72.00" width="2.50" height="486.00" fill="#8fb1fe"/>
<rect x="74.00" width="2.50" height="486.00" fill="#80a3fa"/>
<rect x="76.00" width="2.50" height="486.00" fill="#8fb1fe"/>
<rect x="78.00" width="4.50" height="486.00" fill="#9fbfff"/>
<rect x="82.00" width="2.50" height="486.00" fill="#8fb1fe"/>
<rect x="84.00" width="2.50" height="486.00" fill="#80a3fa"/>
<rect x="86.00" width="2.50" height="486.00" fill="#7597f6"/>
<rect x="88.00" width="2.50" height="486.00" fill="#9fbfff"/>
<rect x="90.00" width="2.50" height="486.00" fill="#aec9fc"/>
<rect x="92.00" width="2.50" height="486.00" fill="#b3cdfb"/>
<rect x="94.00" width="2.50" height="486.00" fill="#9fbfff"/>
<rect x="96.00" width="2.50" height="486.00" fill="#80a3fa"/>
<rect x="98.00" width="2.50" height="486.00" fill="#b3cdfb"/>
<rect x="100.00" width="2.50" height="486.00" fill="#88abfd"/>
<rect x="102.00" width="2.50" height="486.00" fill="#92b4fe"/>
<rect x="104.00" width="2.50" height="486.00" fill="#a2c1ff"/>
<rect x="106.00" width="2.50" height="486.00" fill="#88abfd"/>
<rect x="108.00" width="2.50" height="486.00" fill="#adc9fd"/>
<rect x="110.00" width="2.50" height="486.00" fill="#88abfd"/>
<rect x="112.00" width="2.50" height="486.00" fill="#97b8ff"/>
<rect x="114.00" width="2.50" height="486.00" fill="#88abfd"/>
<rect x="116.00" width="4.50" height="486.00" fill="#a2c1ff"/>
<rect x="120.00" width="2.50" height="486.00" fill="#88abfd"/>
<rect x="122.00" width="2.50" height="486.00" fill="#97b8ff"/>
<rect x="124.00" width="2.50" height="486.00" fill="#b1cbfc"/>
<rect x="126.00" width="2.50" height="486.00" fill="#a2c1ff"/>
<rect x="128.00" width="2.50" height="486.00" fill="#adc9fd"/>
<rect x="130.00" width="2.50" height="486.00" fill="#88abfd"/>
<rect x="132.00" width="2.50" height="486.00" fill="#a2c1ff"/>
<rect x="134.00" width="2.50" height="486.00" fill="#adc9fd"/>
<rect x="136.00" width="2.50" height="486.00" fill="#7da0f9"/>
<rect x="138.00" width="2.50" height="486.00" fill="#b1cbfc"/>
<rect x="140.00" width="2.50" height="486.00" fill="#adc9fd"/>
<rect x="142.00" width="2.50" height="486.00" fill="#c5d6f2"/>
<rect x="144.00" width="2.50" height="486.00" fill="#97b8ff"/>
<rect x="146.00" width="2.50" height="486.00" fill="#a7c5fe"/>
<rect x="148.00" width="2.50" height="486.00" fill="#b1cbfc"/>
<rect x="150.00" width="2.50" height="486.00" fill="#a7c5fe"/>
<rect x="152.00" width="2.50" height="486.00" fill="#bbd1f8"/>
<rect x="154.00" width="2.50" height="486.00" fill="#92b4fe"/>
<rect x="156.00" width="2.50" height="486.00" fill="#a2c1ff"/>
<rect x="158.00" width="2.50" height="486.00" fill="#adc9fd"/>
<rect x="160.00" width="2.50" height="486.00" fill="#a2c1ff"/>
<rect x="162.00" width="2.50" height="486.00" fill="#a7c5fe"/>
<rect x="164.00" width="2.50" height="486.00" fill="#7da0f9"/>
<rect x="166.00" width="2.50" height="486.00" fill="#a2c1ff"/>
<rect x="168.00" width="2.50" height="486.00" fill="#97b8ff"/>
<rect x="170.00" width="2.50" height="486.00" fill="#88abfd"/>
<rect x="172.00" width="2.50" height="486.00" fill="#a2c1ff"/>
<rect x="174.00" width="2.50" height="486.00" fill="#97b8ff"/>
<rect x="176.00" width="2.50" height="486.00" fill="#adc9fd"/>
<rect x="178.00" width="2.50" height="486.00" fill="#a7c5fe"/>
<rect x="180.00" width="2.50" height="486.00" fill="#97b8ff"/>
<rect x="182.00" width="2.50" height="486.00" fill="#7da0f9"/>
<rect x="184.00" width="2.50" height="486.00" fill="#88abfd"/>
<rect x="186.00" width="2.50" height="486.00" fill="#a2c1ff"/>
<rect x="188.00" width="4.50" height="486.00" fill="#97b8ff"/>
<rect x="192.00" width="2.50" height="486.00" fill="#88abfd"/>
<rect x="194.00" width="2.50" height="486.00" fill="#adc9fd"/>
<rect x="196.00" width="2.50" height="486.00" fill="#a7c5fe"/>
<rect x="198.00" width="2.50" height="486.00" fill="#b1cbfc"/>
<rect x="200.00" width="2.50" height="486.00" fill="#a7c5fe"/>
<rect x="202.00" width="2.50" height="486.00" fill="#97b8ff"/>
<rect x="204.00" width="2.50" height="486.00" fill="#88abfd"/>
<rect x="206.00" width="2.50" height="486.00" fill="#bbd1f8"/>
<rect x="208.00" width="2.50" height="486.00" fill="#a7c5fe"/>
<rect x="210.00" width="2.50" height="486.00" fill="#9dbdff"/>
<rect x="212.00" width="2.50" height="486.00" fill="#80a3fa"/>
<rect x="214.00" width="2.50" height="486.00" fill="#7597f6"/>
<rect x="216.00" width="2.50" height="486.00" fill="#94b6ff"/>
<rect x="218.00" width="2.50" height="486.00" fill="#80a3fa"/>
<rect x="220.00" width="2.50" height="486.00" fill="#85a8fc"/>
<rect x="222.00" width="2.50" height="486.00" fill="#80a3fa"/>
<rect x="224.00" width="2.50" height="486.00" fill="#85a8fc"/>
<rect x="226.00" width="4.50" height="486.00" fill="#7597f6"/>
<rect x="230.00" width="2.50" height="486.00" fill="#85a8fc"/>
<rect x="232.00" width="2.50" height="486.00" fill="#8fb1fe"/>
<rect x="234.00" width="2.50" height="486.00" fill="#7597f6"/>
<rect x="236.00" width="2.50" height="486.00" fill="#8fb1fe"/>
<rect x="238.00" width="2.50" height="486.00" fill="#9abbff"/>
<rect x="240.00" width="2.50" height="486.00" fill="#85a8fc"/>
<rect x="242.00" width="2.50" height="486.00" fill="#6b8df0"/>
<rect x="244.00" width="2.50" height="486.00" fill="#8fb1fe"/>
<rect x="246.00" width="2.50" height="486.00" fill="#85a8fc"/>
<rect x="248.00" width="2.50" height="486.00" fill="#80a3fa"/>
<rect x="250.00" width="2.50" height="486.00" fill="#85a8fc"/>
<rect x="252.00" width="2.50" height="486.00" fill="#7597f6"/>
<rect x="254.00" width="2.50" height="486.00" fill="#9abbff"/>
<rect x="256.00" width="2.50" height="486.00" fill="#85a8fc"/>
<rect x="258.00" width="2.50" height="486.00" fill="#8fb1fe"/>
<rect x="260.00" width="2.50" height="486.00" fill="#9abbff"/>
<rect x="262.00" width="2.50" height="486.00" fill="#85a8fc"/>
<rect x="264.00" width="2.50" height="486.00" fill="#9fbfff"/>
<rect x="266.00" width="2.50" height="486.00" fill="#94b6ff"/>
<rect x="268.00" width="2.50" height="486.00" fill="#9abbff"/>
<rect x="270.00" width="2.50" height="486.00" fill="#85a8fc"/>
<rect x="272.00" width="2.50" height="486.00" fill="#9abbff"/>
<rect x="274.00" width="6.50" height="486.00" fill="#8fb1fe"/>
<rect x="280.00" width="2.50" height="486.00" fill="#9fbfff"/>
<rect x="282.00" width="2.50" height="486.00" fill="#7597f6"/>
<rect x="284.00" width="2.50" height="486.00" fill="#85a8fc"/>
<rect x="286.00" width="2.50" height="486.00" fill="#8fb1fe"/>
<rect x="288.00" width="4.50" height="486.00" fill="#85a8fc"/>
<rect x="292.00" width="2.50" height="486.00" fill="#8fb1fe"/>
<rect x="294.00" width="2.50" height="486.00" fill="#9abbff"/>
<rect x="296.00" width="2.50" height="486.00" fill="#80a3fa"/>
<rect x="298.00" width="2.50" height="486.00" fill="#8fb1fe"/>
<rect x="300.00" width="2.50" height="486.00" fill="#97b8ff"/>
<rect x="302.00" width="2.50" height="486.00" fill="#92b4fe"/>
<rect x="304.00" width="2.50" height="486.00" fill="#97b8ff"/>
<rect x="306.00" width="2.50" height="486.00" fill="#92b4fe"/>
<rect x="308.00" width="2.50" height="486.00" fill="#779af7"/>
<rect x="310.00" width="2.50" height="486.00" fill="#7da0f9"/>
<rect x="312.00" width="2.50" height="486.00" fill="#92b4fe"/>
<rect x="314.00" width="4.50" height="486.00" fill="#97b8ff"/>
<rect x="318.00" width="2.50" height="486.00" fill="#88abfd"/>
<rect x="320.00" width="2.50" height="486.00" fill="#6c8ff1"/>
<rect x="322.00" width="2.50" height="486.00" fill="#97b8ff"/>
<rect x="324.00" width="4.50" height="486.00" fill="#88abfd"/>
<rect x="328.00" width="2.50" height="486.00" fill="#6c8ff1"/>
<rect x="330.00" width="2.50" height="486.00" fill="#88abfd"/>
<rect x="332.00" width="2.50" height="486.00" fill="#92b4fe"/>
<rect x="334.00" width="2.50" height="486.00" fill="#88abfd"/>
<rect x="336.00" width="4.50" height="486.00" fill="#97b8ff"/>
<rect x="340.00" width="2.50" height="486.00" fill="#779af7"/>
<rect x="342.00" width="2.50" height="486.00" fill="#7da0f9"/>
<rect x="344.00" width="2.50" height="486.00" fill="#88abfd"/>
<rect x="346.00" width="2.50" height="486.00" fill="#97b8ff"/>
<rect x="348.00" width="2.50" height="486.00" fill="#88abfd"/>
<rect x="350.00" width="2.50" height="486.00" fill="#92b4fe"/>
<rect x="352.00" width="2.50" height="486.00" fill="#97b8ff"/>
<rect x="354.00" width="2.50" height="486.00" fill="#88abfd"/>
<rect x="356.00" width="2.50" height="486.00" fill="#6c8ff1"/>
<rect x="358.00" width="2.50" height="486.00" fill="#7da0f9"/>
<rect x="360.00" width="6.50" height="486.00" fill="#88abfd"/>
<rect x="366.00" width="2.50" height="486.00" fill="#97b8ff"/>
<rect x="368.00" width="2.50" height="486.00" fill="#88abfd"/>
<rect x="370.00" width="2.50" height="486.00" fill="#7da0f9"/>
<rect x="372.00" width="2.50" height="486.00" fill="#88abfd"/>
<rect x="374.00" width="2.50" height="486.00" fill="#92b4fe"/>
<rect x="376.00" width="2.50" height="486.00" fill="#7da0f9"/>
<rect x="378.00" width="2.50" height="486.00" fill="#779af7"/>
<rect x="380.00" width="2.50" height="486.00" fill="#6c8ff1"/>
<rect x="382.00" width="2.50" height="486.00" fill="#88abfd"/>
<rect x="384.00" width="2.50" height="486.00" fill="#92b4fe"/>
<rect x="386.00" width="2.50" height="486.00" fill="#97b8ff"/>
<rect x="388.00" width="2.50" height="486.00" fill="#88abfd"/>
<rect x="390.00" width="2.50" height="486.00" fill="#7da0f9"/>
<rect x="392.00" width="2.50" height="486.00" fill="#779af7"/>
<rect x="394.00" width="2.50" height="486.00" fill="#88abfd"/>
<rect x="396.00" width="2.50" height="486.00" fill="#92b4fe"/>
<rect x="398.00" width="2.50" height="486.00" fill="#7da0f9"/>
<rect x="400.00" width="2.50" height="486.00" fill="#88abfd"/>
<rect x="402.00" width="2.50" height="486.00" fill="#97b8ff"/>
<rect x="404.00" width="2.50" height="486.00" fill="#8db0fe"/>
<rect x="406.00" width="2.50" height="486.00" fill="#97b8ff"/>
<rect x="408.00" width="2.50" height="486.00" fill="#779af7"/>
<rect x="410.00" width="2.50" height="486.00" fill="#88abfd"/>
<rect x="412.00" width="2.50" height="486.00" fill="#92b4fe"/>
<rect x="414.00" width="2.50" height="486.00" fill="#9dbdff"/>
<rect x="416.00" width="2.50" height="486.00" fill="#8db0fe"/>
<rect x="418.00" width="2.50" height="486.00" fill="#88abfd"/>
<rect x="420.00" width="2.50" height="486.00" fill="#8db0fe"/>
<rect x="422.00" width="2.50" height="486.00" fill="#92b4fe"/>
<rect x="424.00" width="2.50" height="486.00" fill="#97b8ff"/>
<rect x="426.00" width="2.50" height="486.00" fill="#8db0fe"/>
<rect x="428.00" width="2.50" height="486.00" fill="#82a6fb"/>
<rect x="430.00" width="2.50" height="486.00" fill="#92b4fe"/>
<rect x="432.00" width="2.50" height="486.00" fill="#a2c1ff"/>
<rect x="434.00" width="2.50" height="486.00" fill="#97b8ff"/>
<rect x="436.00" width="2.50" height="486.00" fill="#88abfd"/>
<rect x="438.00" width="2.50" height="486.00" fill="#7da0f9"/>
<rect x="440.00" width="2.50" height="486.00" fill="#88abfd"/>
<rect x="442.00" width="2.50" height="486.00" fill="#97b8ff"/>
<rect x="444.00" width="2.50" height="486.00" fill="#88abfd"/>
<rect x="446.00" width="2.50" height="486.00" fill="#8db0fe"/>
<rect x="448.00" width="2.50" height="486.00" fill="#97b8ff"/>
<rect x="450.00" width="2.50" height="486.00" fill="#a7c5fe"/>
<rect x="452.00" width="2.50" height="486.00" fill="#8db0fe"/>
<rect x="454.00" width="2.50" height="486.00" fill="#88abfd"/>
<rect x="456.00" width="2.50" height="486.00" fill="#7da0f9"/>
<rect x="458.00" width="2.50" height="486.00" fill="#8db0fe"/>
<rect x="460.00" width="2.50" height="486.00" fill="#a2c1ff"/>
<rect x="462.00" width="2.50" height="486.00" fill="#92b4fe"/>
<rect x="464.00" width="2.50" height="486.00" fill="#8db0fe"/>
<rect x="466.00" width="2.50" height="486.00" fill="#88abfd"/>
<rect x="468.00" width="2.50" height="486.00" fill="#8db0fe"/>
<rect x="470.00" width="2.50" height="486.00" fill="#97b8ff"/>
<rect x="472.00" width="2.50" height="486.00" fill="#9dbdff"/>
<rect x="474.00" width="2.50" height="486.00" fill="#82a6fb"/>
<rect x="476.00" width="2.50" height="486.00" fill="#8db0fe"/>
<rect x="478.00" width="2.50" height="486.00" fill="#92b4fe"/>
<rect x="480.00" width="2.50" height="486.00" fill="#8db0fe"/>
<rect x="482.00" width="2.50" height="486.00" fill="#88abfd"/>
<rect x="484.00" width="2.50" height="486.00" fill="#97b8ff"/>
<rect x="486.00" width="4.50" height="486.00" fill="#82a6fb"/>
<rect x="490.00" width="2.50" height="486.00" fill="#8db0fe"/>
<rect x="492.00" width="2.50" height="486.00" fill="#97b8ff"/>
<rect x="494.00" width="4.50" height="486.00" fill="#7da0f9"/>
<rect x="498.00" width="2.50" height="486.00" fill="#8db0fe"/>
<rect x="500.00" width="2.50" height="486.00" fill="#7da0f9"/>
<rect x="502.00" width="2.50" height="486.00" fill="#8db0fe"/>
<rect x="504.00" width="2.50" height="486.00" fill="#88abfd"/>
<rect x="506.00" width="2.50" height="486.00" fill="#8db0fe"/>
<rect x="508.00" width="2.50" height="486.00" fill="#7da0f9"/>
<rect x="510.00" width="4.50" height="486.00" fill="#88abfd"/>
<rect x="514.00" width="2.50" height="486.00" fill="#82a6fb"/>
<rect x="516.00" width="2.50" height="486.00" fill="#92b4fe"/>
<rect x="518.00" width="2.50" height="486.00" fill="#a2c1ff"/>
<rect x="520.00" width="2.50" height="486.00" fill="#88abfd"/>
<rect x="522.00" width="2.50" height="486.00" fill="#92b4fe"/>
<rect x="524.00" width="2.50" height="486.00" fill="#82a6fb"/>
<rect x="526.00" width="2.50" height="486.00" fill="#779af7"/>
<rect x="528.00" width="2.50" height="486.00" fill="#97b8ff"/>
<rect x="530.00" width="2.50" height="486.00" fill="#88abfd"/>
<rect x="532.00" width="2.50" height="486.00" fill="#779af7"/>
<rect x="534.00" width="2.50" height="486.00" fill="#82a6fb"/>
<rect x="536.00" width="2.50" height="486.00" fill="#a2c1ff"/>
<rect x="538.00" width="2.50" height="486.00" fill="#8db0fe"/>
<rect x="540.00" width="2.50" height="486.00" fill="#88abfd"/>
<rect x="542.00" width="2.50" height="486.00" fill="#7da0f9"/>
<rect x="544.00" width="2.50" height="486.00" fill="#97b8ff"/>
<rect x="546.00" width="2.50" height="486.00" fill="#8db0fe"/>
<rect x="548.00" width="2.50" height="486.00" fill="#88abfd"/>
<rect x="550.00" width="2.50" height="486.00" fill="#92b4fe"/>
<rect x="552.00" width="2.50" height="486.00" fill="#97b8ff"/>
<rect x="554.00" width="2.50" height="486.00" fill="#88abfd"/>
<rect x="556.00" width="4.50" height="486.00" fill="#779af7"/>
<rect x="560.00" width="2.50" height="486.00" fill="#88abfd"/>
<rect x="562.00" width="2.50" height="486.00" fill="#8db0fe"/>
<rect x="564.00" width="2.50" height="486.00" fill="#88abfd"/>
<rect x="566.00" width="4.50" height="486.00" fill="#7da0f9"/>
<rect x="570.00" width="2.50" height="486.00" fill="#8db0fe"/>
<rect x="572.00" width="2.50" height="486.00" fill="#9dbdff"/>
<rect x="574.00" width="2.50" height="486.00" fill="#82a6fb"/>
<rect x="576.00" width="2.50" height="486.00" fill="#7da0f9"/>
<rect x="578.00" width="2.50" height="486.00" fill="#88abfd"/>
<rect x="580.00" width="2.50" height="486.00" fill="#9dbdff"/>
<rect x="582.00" width="2.50" height="486.00" fill="#82a6fb"/>
<rect x="584.00" width="2.50" height="486.00" fill="#88abfd"/>
<rect x="586.00" width="6.50" height="486.00" fill="#8db0fe"/>
<rect x="592.00" width="2.50" height="486.00" fill="#88abfd"/>
<rect x="594.00" width="2.50" height="486.00" fill="#8db0fe"/>
<rect x="596.00" width="2.50" height="486.00" fill="#97b8ff"/>
<rect x="598.00" width="2.50" height="486.00" fill="#92b4fe"/>
<rect x="600.00" width="2.50" height="486.00" fill="#88abfd"/>
<rect x="602.00" width="2.50" height="486.00" fill="#8db0fe"/>
<rect x="604.00" width="2.50" height="486.00" fill="#88abfd"/>
<rect x="606.00" width="2.50" height="486.00" fill="#779af7"/>
<rect x="608.00" width="2.50" height="486.00" fill="#97b8ff"/>
<rect x="610.00" width="2.50" height="486.00" fill="#92b4fe"/>
<rect x="612.00" width="2.50" height="486.00" fill="#88abfd"/>
<rect x="614.00" width="2.50" height="486.00" fill="#8db0fe"/>
<rect x="616.00" width="2.50" height="486.00" fill="#97b8ff"/>
<rect x="618.00" width="2.50" height="486.00" fill="#8db0fe"/>
<rect x="620.00" width="2.50" height="486.00" fill="#82a6fb"/>
<rect x="622.00" width="2.50" height="486.00" fill="#8db0fe"/>
<rect x="624.00" width="2.50" height="486.00" fill="#97b8ff"/>
<rect x="626.00" width="2.50" height="486.00" fill="#a2c1ff"/>
<rect x="628.00" width="2.50" height="486.00" fill="#88abfd"/>
<rect x="630.00" width="2.50" height="486.00" fill="#82a6fb"/>
<rect x="632.00" width="2.50" height="486.00" fill="#92b4fe"/>
<rect x="634.00" width="2.50" height="486.00" fill="#97b8ff"/>
<rect x="636.00" width="2.50" height="486.00" fill="#a2c1ff"/>
<rect x="638.00" width="2.50" height="486.00" fill="#92b4fe"/>
<rect x="640.00" width="2.50" height="486.00" fill="#8db0fe"/>
<rect x="642.00" width="2.50" height="486.00" fill="#82a6fb"/>
<rect x="644.00" width="2.50" height="486.00" fill="#8db0fe"/>
<rect x="646.00" width="2.50" height="486.00" fill="#97b8ff"/>
<rect x="648.00" width="2.50" height="486.00" fill="#7295f4"/>
<rect x="650.00" width="2.50" height="486.00" fill="#92b4fe"/>
<rect x="652.00" width="2.50" height="486.00" fill="#97b8ff"/>
<rect x="654.00" width="2.50" height="486.00" fill="#88abfd"/>
<rect x="656.00" width="2.50" height="486.00" fill="#82a6fb"/>
<rect x="658.00" width="2.50" height="486.00" fill="#8db0fe"/>
<rect x="660.00" width="2.50" height="486.00" fill="#97b8ff"/>
<rect x="662.00" width="2.50" height="486.00" fill="#88abfd"/>
<rect x="664.00" width="2.50" height="486.00" fill="#779af7"/>
<rect x="666.00" width="4.50" height="486.00" fill="#8db0fe"/>
<rect x="670.00" width="2.50" height="486.00" fill="#92b4fe"/>
<rect x="672.00" width="2.50" height="486.00" fill="#88abfd"/>
<rect x="674.00" width="2.50" height="486.00" fill="#8db0fe"/>
<rect x="676.00" width="2.50" height="486.00" fill="#88abfd"/>
<rect x="678.00" width="2.50" height="486.00" fill="#8db0fe"/>
<rect x="680.00" width="2.50" height="486.00" fill="#9dbdff"/>
<rect x="682.00" width="2.50" height="486.00" fill="#779af7"/>
<rect x="684.00" width="2.50" height="486.00" fill="#82a6fb"/>
<rect x="686.00" width="2.50" height="486.00" fill="#8db0fe"/>
<rect x="688.00" width="2.50" height="486.00" fill="#97b8ff"/>
<rect x="690.00" width="2.50" height="486.00" fill="#8db0fe"/>
<rect x="692.00" width="2.50" height="486.00" fill="#97b8ff"/>
<rect x="694.00" width="4.50" height="486.00" fill="#88abfd"/>
<rect x="698.00" width="2.50" height="486.00" fill="#7da0f9"/>
<rect x="700.00" width="2.50" height="486.00" fill="#82a6fb"/>
<rect x="702.00" width="2.50" height="486.00" fill="#88abfd"/>
<rect x="704.00" width="2.50" height="486.00" fill="#7da0f9"/>
<rect x="706.00" width="2.50" height="486.00" fill="#8db0fe"/>
<rect x="708.00" width="2.50" height="486.00" fill="#97b8ff"/>
<rect x="710.00" width="2.50" height="486.00" fill="#7295f4"/>
<rect x="712.00" width="2.50" height="486.00" fill="#92b4fe"/>
<rect x="714.00" width="2.50" height="486.00" fill="#a2c1ff"/>
<rect x="716.00" width="2.50" height="486.00" fill="#8db0fe"/>
<rect x="718.00" width="2.50" height="486.00" fill="#88abfd"/>
<rect x="720.00" width="2.50" height="486.00" fill="#82a6fb"/>
<rect x="722.00" width="2.50" height="486.00" fill="#8db0fe"/>
<rect x="724.00" width="2.50" height="486.00" fill="#779af7"/>
<rect x="726.00" width="2.50" height="486.00" fill="#a2c1ff"/>
<rect x="728.00" width="2.50" height="486.00" fill="#8db0fe"/>
<rect x="730.00" width="2.50" height="486.00" fill="#88abfd"/>
<rect x="732.00" width="2.50" height="486.00" fill="#8db0fe"/>
<rect x="734.00" width="2.50" height="486.00" fill="#7da0f9"/>
<rect x="736.00" width="2.50" height="486.00" fill="#92b4fe"/>
<rect x="738.00" width="2.50" height="486.00" fill="#9dbdff"/>
<rect x="740.00" width="2.50" height="486.00" fill="#779af7"/>
<rect x="742.00" width="2.50" height="486.00" fill="#88abfd"/>
<rect x="744.00" width="2.50" height="486.00" fill="#97b8ff"/>
<rect x="746.00" width="2.50" height="486.00" fill="#a7c5fe"/>
<rect x="748.00" width="4.50" height="486.00" fill="#8db0fe"/>
<rect x="752.00" width="2.50" height="486.00" fill="#92b4fe"/>
<rect x="754.00" width="2.50" height="486.00" fill="#8db0fe"/>
<rect x="756.00" width="2.50" height="486.00" fill="#88abfd"/>
<rect x="758.00" width="2.50" height="486.00" fill="#7295f4"/>
<rect x="760.00" width="2.50" height="486.00" fill="#8db0fe"/>
<rect x="762.00" width="2.50" height="486.00" fill="#88abfd"/>
<rect x="764.00" width="2.50" height="486.00" fill="#8db0fe"/>
<rect x="766.00" width="2.50" height="486.00" fill="#97b8ff"/>
<rect x="768.00" width="2.50" height="486.00" fill="#88abfd"/>
<rect x="770.00" width="2.50" height="486.00" fill="#92b4fe"/>
<rect x="772.00" width="2.50" height="486.00" fill="#8db0fe"/>
<rect x="774.00" width="2.50" height="486.00" fill="#88abfd"/>
<rect x="776.00" width="2.50" height="486.00" fill="#82a6fb"/>
<rect x="778.00" width="2.50" height="486.00" fill="#8db0fe"/>
<rect x="780.00" width="2.50" height="486.00" fill="#82a6fb"/>
<rect x="782.00" width="2.50" height="486.00" fill="#779af7"/>
<rect x="784.00" width="2.50" height="486.00" fill="#97b8ff"/>
<rect x="786.00" width="2.50" height="486.00" fill="#92b4fe"/>
<rect x="788.00" width="2.50" height="486.00" fill="#779af7"/>
<rect x="790.00" width="2.50" height="486.00" fill="#8db0fe"/>
<rect x="792.00" width="2.50" height="486.00" fill="#88abfd"/>
<rect x="794.00" width="2.50" height="486.00" fill="#9dbdff"/>
<rect x="796.00" width="2.50" height="486.00" fill="#88abfd"/>
<rect x="0" y="291.60" width="798.00" height="16.20" fill="#dddcdc" fill-opacity="0.12"/>
<rect x="0" y="405.00" width="798.00" height="16.20" fill="#dddcdc" fill-opacity="0.12"/>
</g></g>
<rect x="488.5" y="664.5" width="798.00" height="486.00" fill="none" stroke="#555" stroke-width="1"/>
<line x1="485.5" y1="1150.50" x2="488.5" y2="1150.50" stroke="#444" stroke-width="1"/>
<text x="481.5" y="1153.90" text-anchor="end" font-family="DejaVu Sans, sans-serif" font-size="9" letter-spacing="-0.4" fill="#3a3a3a" stroke="#666" stroke-width="0.3">0</text>
<line x1="485.5" y1="1069.50" x2="488.5" y2="1069.50" stroke="#444" stroke-width="1"/>
<text x="481.5" y="1072.90" text-anchor="end" font-family="DejaVu Sans, sans-serif" font-size="9" letter-spacing="-0.4" fill="#3a3a3a" stroke="#666" stroke-width="0.3">5</text>
<line x1="485.5" y1="988.50" x2="488.5" y2="988.50" stroke="#444" stroke-width="1"/>
<text x="481.5" y="991.90" text-anchor="end" font-family="DejaVu Sans, sans-serif" font-size="9" letter-spacing="-0.4" fill="#3a3a3a" stroke="#666" stroke-width="0.3">10</text>
<line x1="485.5" y1="907.50" x2="488.5" y2="907.50" stroke="#444" stroke-width="1"/>
<text x="481.5" y="910.90" text-anchor="end" font-family="DejaVu Sans, sans-serif" font-size="9" letter-spacing="-0.4" fill="#3a3a3a" stroke="#666" stroke-width="0.3">15</text>
<line x1="485.5" y1="826.50" x2="488.5" y2="826.50" stroke="#444" stroke-width="1"/>
<text x="481.5" y="829.90" text-anchor="end" font-family="DejaVu Sans, sans-serif" font-size="9" letter-spacing="-0.4" fill="#3a3a3a" stroke="#666" stroke-width="0.3">20</text>
<line x1="485.5" y1="745.50" x2="488.5" y2="745.50" stroke="#444" stroke-width="1"/>
<text x="481.5" y="748.90" text-anchor="end" font-family="DejaVu Sans, sans-serif" font-size="9" letter-spacing="-0.4" fill="#3a3a3a" stroke="#666" stroke-width="0.3">25</text>
<line x1="485.5" y1="664.50" x2="488.5" y2="664.50" stroke="#444" stroke-width="1"/>
<text x="481.5" y="667.90" text-anchor="end" font-family="DejaVu Sans, sans-serif" font-size="9" letter-spacing="-0.4" fill="#3a3a3a" stroke="#666" stroke-width="0.3">30</text>
<line x1="488.50" y1="1150.5" x2="488.50" y2="1154.0" stroke="#444" stroke-width="1"/>
<text x="488.50" y="1164.70" text-anchor="middle" font-family="DejaVu Sans, sans-serif" font-size="10" fill="#3a3a3a" stroke="#666" stroke-width="0.3">0</text>
<line x1="648.26" y1="1150.5" x2="648.26" y2="1154.0" stroke="#444" stroke-width="1"/>
<text x="648.26" y="1164.70" text-anchor="middle" font-family="DejaVu Sans, sans-serif" font-size="10" fill="#3a3a3a" stroke="#666" stroke-width="0.3">2000</text>
<line x1="808.02" y1="1150.5" x2="808.02" y2="1154.0" stroke="#444" stroke-width="1"/>
<text x="808.02" y="1164.70" text-anchor="middle" font-family="DejaVu Sans, sans-serif" font-size="10" fill="#3a3a3a" stroke="#666" stroke-width="0.3">4000</text>
<line x1="967.78" y1="1150.5" x2="967.78" y2="1154.0" stroke="#444" stroke-width="1"/>
<text x="967.78" y="1164.70" text-anchor="middle" font-family="DejaVu Sans, sans-serif" font-size="10" fill="#3a3a3a" stroke="#666" stroke-width="0.3">6000</text>
<line x1="1127.54" y1="1150.5" x2="1127.54" y2="1154.0" stroke="#444" stroke-width="1"/>
<text x="1127.54" y="1164.70" text-anchor="middle" font-family="DejaVu Sans, sans-serif" font-size="10" fill="#3a3a3a" stroke="#666" stroke-width="0.3">8000</text>
<rect x="1336.4" y="665.0" width="24.40" height="485.50" fill="url(#cbg)" stroke="#555" stroke-width="1"/>
<line x1="1360.8" y1="1150.50" x2="1364.3" y2="1150.50" stroke="#444" stroke-width="1"/>
<text x="1367.1" y="1153.80" font-family="DejaVu Sans, sans-serif" font-size="8.6" fill="#3a3a3a" stroke="#666" stroke-width="0.25">0.0</text>
<line x1="1360.8" y1="1053.40" x2="1364.3" y2="1053.40" stroke="#444" stroke-width="1"/>
<text x="1367.1" y="1056.70" font-family="DejaVu Sans, sans-serif" font-size="8.6" fill="#3a3a3a" stroke="#666" stroke-width="0.25">0.2</text>
<line x1="1360.8" y1="956.30" x2="1364.3" y2="956.30" stroke="#444" stroke-width="1"/>
<text x="1367.1" y="959.60" font-family="DejaVu Sans, sans-serif" font-size="8.6" fill="#3a3a3a" stroke="#666" stroke-width="0.25">0.4</text>
<line x1="1360.8" y1="859.20" x2="1364.3" y2="859.20" stroke="#444" stroke-width="1"/>
<text x="1367.1" y="862.50" font-family="DejaVu Sans, sans-serif" font-size="8.6" fill="#3a3a3a" stroke="#666" stroke-width="0.25">0.6</text>
<line x1="1360.8" y1="762.10" x2="1364.3" y2="762.10" stroke="#444" stroke-width="1"/>
<text x="1367.1" y="765.40" font-family="DejaVu Sans, sans-serif" font-size="8.6" fill="#3a3a3a" stroke="#666" stroke-width="0.25">0.8</text>
<line x1="1360.8" y1="665.00" x2="1364.3" y2="665.00" stroke="#444" stroke-width="1"/>
<text x="1367.1" y="668.30" font-family="DejaVu Sans, sans-serif" font-size="8.6" fill="#3a3a3a" stroke="#666" stroke-width="0.25">1.0</text>
</svg>
<div class="cap" style="left:364px;top:564.3px">(a) D1-D4</div>
<div class="cap" style="left:1272px;top:564.3px">(b) D2-D4</div>
<div class="cap" style="left:794px;top:1217.5px">(c) D3-D4</div>
</body></html>
